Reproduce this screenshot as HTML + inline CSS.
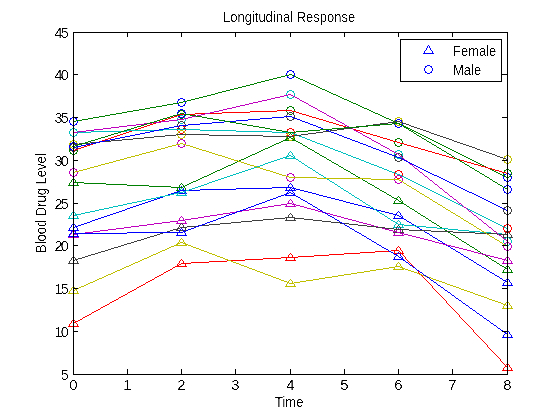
<!DOCTYPE html>
<html><head><meta charset="utf-8"><style>
html,body{margin:0;padding:0;background:#fff;width:560px;height:420px;overflow:hidden}
svg{display:block}
text{font-family:"Liberation Sans",sans-serif;font-size:13px;fill:#000}
</style></head><body>
<svg width="560" height="420" viewBox="0 0 560 420">
<defs><filter id="al" x="0" y="0" width="560" height="420" filterUnits="userSpaceOnUse"><feComponentTransfer><feFuncA type="linear" slope="4" intercept="-1.8"/></feComponentTransfer></filter></defs>
<rect width="560" height="420" fill="#fff"/>
<g fill="none" stroke-width="1" shape-rendering="crispEdges">
<path d="M73 223h1v1h-1zM72 224h1v1h-1zM74 224h1v1h-1zM71 225h1v1h-1zM75 225h1v1h-1zM71 226h1v1h-1zM75 226h1v1h-1zM70 227h1v1h-1zM76 227h1v1h-1zM69 228h1v1h-1zM77 228h1v1h-1zM69 229h1v1h-1zM77 229h1v1h-1zM68 230h11v1h-11z" fill="#0000ff"/><path d="M181 186h1v1h-1zM180 187h1v1h-1zM182 187h1v1h-1zM179 188h1v1h-1zM183 188h1v1h-1zM179 189h1v1h-1zM183 189h1v1h-1zM178 190h1v1h-1zM184 190h1v1h-1zM177 191h1v1h-1zM185 191h1v1h-1zM177 192h1v1h-1zM185 192h1v1h-1zM176 193h11v1h-11z" fill="#0000ff"/><path d="M290 183h1v1h-1zM289 184h1v1h-1zM291 184h1v1h-1zM288 185h1v1h-1zM292 185h1v1h-1zM288 186h1v1h-1zM292 186h1v1h-1zM287 187h1v1h-1zM293 187h1v1h-1zM286 188h1v1h-1zM294 188h1v1h-1zM286 189h1v1h-1zM294 189h1v1h-1zM285 190h11v1h-11z" fill="#0000ff"/><path d="M398 211h1v1h-1zM397 212h1v1h-1zM399 212h1v1h-1zM396 213h1v1h-1zM400 213h1v1h-1zM396 214h1v1h-1zM400 214h1v1h-1zM395 215h1v1h-1zM401 215h1v1h-1zM394 216h1v1h-1zM402 216h1v1h-1zM394 217h1v1h-1zM402 217h1v1h-1zM393 218h11v1h-11z" fill="#0000ff"/><path d="M507 278h1v1h-1zM506 279h1v1h-1zM508 279h1v1h-1zM505 280h1v1h-1zM509 280h1v1h-1zM505 281h1v1h-1zM509 281h1v1h-1zM504 282h1v1h-1zM510 282h1v1h-1zM503 283h1v1h-1zM511 283h1v1h-1zM503 284h1v1h-1zM511 284h1v1h-1zM502 285h11v1h-11z" fill="#0000ff"/><path d="M73 178h1v1h-1zM72 179h1v1h-1zM74 179h1v1h-1zM71 180h1v1h-1zM75 180h1v1h-1zM71 181h1v1h-1zM75 181h1v1h-1zM70 182h1v1h-1zM76 182h1v1h-1zM69 183h1v1h-1zM77 183h1v1h-1zM69 184h1v1h-1zM77 184h1v1h-1zM68 185h11v1h-11z" fill="#008000"/><path d="M181 183h1v1h-1zM180 184h1v1h-1zM182 184h1v1h-1zM179 185h1v1h-1zM183 185h1v1h-1zM179 186h1v1h-1zM183 186h1v1h-1zM178 187h1v1h-1zM184 187h1v1h-1zM177 188h1v1h-1zM185 188h1v1h-1zM177 189h1v1h-1zM185 189h1v1h-1zM176 190h11v1h-11z" fill="#008000"/><path d="M290 133h1v1h-1zM289 134h1v1h-1zM291 134h1v1h-1zM288 135h1v1h-1zM292 135h1v1h-1zM288 136h1v1h-1zM292 136h1v1h-1zM287 137h1v1h-1zM293 137h1v1h-1zM286 138h1v1h-1zM294 138h1v1h-1zM286 139h1v1h-1zM294 139h1v1h-1zM285 140h11v1h-11z" fill="#008000"/><path d="M398 196h1v1h-1zM397 197h1v1h-1zM399 197h1v1h-1zM396 198h1v1h-1zM400 198h1v1h-1zM396 199h1v1h-1zM400 199h1v1h-1zM395 200h1v1h-1zM401 200h1v1h-1zM394 201h1v1h-1zM402 201h1v1h-1zM394 202h1v1h-1zM402 202h1v1h-1zM393 203h11v1h-11z" fill="#008000"/><path d="M507 265h1v1h-1zM506 266h1v1h-1zM508 266h1v1h-1zM505 267h1v1h-1zM509 267h1v1h-1zM505 268h1v1h-1zM509 268h1v1h-1zM504 269h1v1h-1zM510 269h1v1h-1zM503 270h1v1h-1zM511 270h1v1h-1zM503 271h1v1h-1zM511 271h1v1h-1zM502 272h11v1h-11z" fill="#008000"/><path d="M73 319h1v1h-1zM72 320h1v1h-1zM74 320h1v1h-1zM71 321h1v1h-1zM75 321h1v1h-1zM71 322h1v1h-1zM75 322h1v1h-1zM70 323h1v1h-1zM76 323h1v1h-1zM69 324h1v1h-1zM77 324h1v1h-1zM69 325h1v1h-1zM77 325h1v1h-1zM68 326h11v1h-11z" fill="#ff0000"/><path d="M181 259h1v1h-1zM180 260h1v1h-1zM182 260h1v1h-1zM179 261h1v1h-1zM183 261h1v1h-1zM179 262h1v1h-1zM183 262h1v1h-1zM178 263h1v1h-1zM184 263h1v1h-1zM177 264h1v1h-1zM185 264h1v1h-1zM177 265h1v1h-1zM185 265h1v1h-1zM176 266h11v1h-11z" fill="#ff0000"/><path d="M290 253h1v1h-1zM289 254h1v1h-1zM291 254h1v1h-1zM288 255h1v1h-1zM292 255h1v1h-1zM288 256h1v1h-1zM292 256h1v1h-1zM287 257h1v1h-1zM293 257h1v1h-1zM286 258h1v1h-1zM294 258h1v1h-1zM286 259h1v1h-1zM294 259h1v1h-1zM285 260h11v1h-11z" fill="#ff0000"/><path d="M398 246h1v1h-1zM397 247h1v1h-1zM399 247h1v1h-1zM396 248h1v1h-1zM400 248h1v1h-1zM396 249h1v1h-1zM400 249h1v1h-1zM395 250h1v1h-1zM401 250h1v1h-1zM394 251h1v1h-1zM402 251h1v1h-1zM394 252h1v1h-1zM402 252h1v1h-1zM393 253h11v1h-11z" fill="#ff0000"/><path d="M507 363h1v1h-1zM506 364h1v1h-1zM508 364h1v1h-1zM505 365h1v1h-1zM509 365h1v1h-1zM505 366h1v1h-1zM509 366h1v1h-1zM504 367h1v1h-1zM510 367h1v1h-1zM503 368h1v1h-1zM511 368h1v1h-1zM503 369h1v1h-1zM511 369h1v1h-1zM502 370h11v1h-11z" fill="#ff0000"/><path d="M73 211h1v1h-1zM72 212h1v1h-1zM74 212h1v1h-1zM71 213h1v1h-1zM75 213h1v1h-1zM71 214h1v1h-1zM75 214h1v1h-1zM70 215h1v1h-1zM76 215h1v1h-1zM69 216h1v1h-1zM77 216h1v1h-1zM69 217h1v1h-1zM77 217h1v1h-1zM68 218h11v1h-11z" fill="#00bfbf"/><path d="M181 188h1v1h-1zM180 189h1v1h-1zM182 189h1v1h-1zM179 190h1v1h-1zM183 190h1v1h-1zM179 191h1v1h-1zM183 191h1v1h-1zM178 192h1v1h-1zM184 192h1v1h-1zM177 193h1v1h-1zM185 193h1v1h-1zM177 194h1v1h-1zM185 194h1v1h-1zM176 195h11v1h-11z" fill="#00bfbf"/><path d="M290 151h1v1h-1zM289 152h1v1h-1zM291 152h1v1h-1zM288 153h1v1h-1zM292 153h1v1h-1zM288 154h1v1h-1zM292 154h1v1h-1zM287 155h1v1h-1zM293 155h1v1h-1zM286 156h1v1h-1zM294 156h1v1h-1zM286 157h1v1h-1zM294 157h1v1h-1zM285 158h11v1h-11z" fill="#00bfbf"/><path d="M398 220h1v1h-1zM397 221h1v1h-1zM399 221h1v1h-1zM396 222h1v1h-1zM400 222h1v1h-1zM396 223h1v1h-1zM400 223h1v1h-1zM395 224h1v1h-1zM401 224h1v1h-1zM394 225h1v1h-1zM402 225h1v1h-1zM394 226h1v1h-1zM402 226h1v1h-1zM393 227h11v1h-11z" fill="#00bfbf"/><path d="M507 230h1v1h-1zM506 231h1v1h-1zM508 231h1v1h-1zM505 232h1v1h-1zM509 232h1v1h-1zM505 233h1v1h-1zM509 233h1v1h-1zM504 234h1v1h-1zM510 234h1v1h-1zM503 235h1v1h-1zM511 235h1v1h-1zM503 236h1v1h-1zM511 236h1v1h-1zM502 237h11v1h-11z" fill="#00bfbf"/><path d="M73 230h1v1h-1zM72 231h1v1h-1zM74 231h1v1h-1zM71 232h1v1h-1zM75 232h1v1h-1zM71 233h1v1h-1zM75 233h1v1h-1zM70 234h1v1h-1zM76 234h1v1h-1zM69 235h1v1h-1zM77 235h1v1h-1zM69 236h1v1h-1zM77 236h1v1h-1zM68 237h11v1h-11z" fill="#bf00bf"/><path d="M181 216h1v1h-1zM180 217h1v1h-1zM182 217h1v1h-1zM179 218h1v1h-1zM183 218h1v1h-1zM179 219h1v1h-1zM183 219h1v1h-1zM178 220h1v1h-1zM184 220h1v1h-1zM177 221h1v1h-1zM185 221h1v1h-1zM177 222h1v1h-1zM185 222h1v1h-1zM176 223h11v1h-11z" fill="#bf00bf"/><path d="M290 199h1v1h-1zM289 200h1v1h-1zM291 200h1v1h-1zM288 201h1v1h-1zM292 201h1v1h-1zM288 202h1v1h-1zM292 202h1v1h-1zM287 203h1v1h-1zM293 203h1v1h-1zM286 204h1v1h-1zM294 204h1v1h-1zM286 205h1v1h-1zM294 205h1v1h-1zM285 206h11v1h-11z" fill="#bf00bf"/><path d="M398 228h1v1h-1zM397 229h1v1h-1zM399 229h1v1h-1zM396 230h1v1h-1zM400 230h1v1h-1zM396 231h1v1h-1zM400 231h1v1h-1zM395 232h1v1h-1zM401 232h1v1h-1zM394 233h1v1h-1zM402 233h1v1h-1zM394 234h1v1h-1zM402 234h1v1h-1zM393 235h11v1h-11z" fill="#bf00bf"/><path d="M507 256h1v1h-1zM506 257h1v1h-1zM508 257h1v1h-1zM505 258h1v1h-1zM509 258h1v1h-1zM505 259h1v1h-1zM509 259h1v1h-1zM504 260h1v1h-1zM510 260h1v1h-1zM503 261h1v1h-1zM511 261h1v1h-1zM503 262h1v1h-1zM511 262h1v1h-1zM502 263h11v1h-11z" fill="#bf00bf"/><path d="M73 286h1v1h-1zM72 287h1v1h-1zM74 287h1v1h-1zM71 288h1v1h-1zM75 288h1v1h-1zM71 289h1v1h-1zM75 289h1v1h-1zM70 290h1v1h-1zM76 290h1v1h-1zM69 291h1v1h-1zM77 291h1v1h-1zM69 292h1v1h-1zM77 292h1v1h-1zM68 293h11v1h-11z" fill="#bfbf00"/><path d="M181 238h1v1h-1zM180 239h1v1h-1zM182 239h1v1h-1zM179 240h1v1h-1zM183 240h1v1h-1zM179 241h1v1h-1zM183 241h1v1h-1zM178 242h1v1h-1zM184 242h1v1h-1zM177 243h1v1h-1zM185 243h1v1h-1zM177 244h1v1h-1zM185 244h1v1h-1zM176 245h11v1h-11z" fill="#bfbf00"/><path d="M290 279h1v1h-1zM289 280h1v1h-1zM291 280h1v1h-1zM288 281h1v1h-1zM292 281h1v1h-1zM288 282h1v1h-1zM292 282h1v1h-1zM287 283h1v1h-1zM293 283h1v1h-1zM286 284h1v1h-1zM294 284h1v1h-1zM286 285h1v1h-1zM294 285h1v1h-1zM285 286h11v1h-11z" fill="#bfbf00"/><path d="M398 262h1v1h-1zM397 263h1v1h-1zM399 263h1v1h-1zM396 264h1v1h-1zM400 264h1v1h-1zM396 265h1v1h-1zM400 265h1v1h-1zM395 266h1v1h-1zM401 266h1v1h-1zM394 267h1v1h-1zM402 267h1v1h-1zM394 268h1v1h-1zM402 268h1v1h-1zM393 269h11v1h-11z" fill="#bfbf00"/><path d="M507 301h1v1h-1zM506 302h1v1h-1zM508 302h1v1h-1zM505 303h1v1h-1zM509 303h1v1h-1zM505 304h1v1h-1zM509 304h1v1h-1zM504 305h1v1h-1zM510 305h1v1h-1zM503 306h1v1h-1zM511 306h1v1h-1zM503 307h1v1h-1zM511 307h1v1h-1zM502 308h11v1h-11z" fill="#bfbf00"/><path d="M73 256h1v1h-1zM72 257h1v1h-1zM74 257h1v1h-1zM71 258h1v1h-1zM75 258h1v1h-1zM71 259h1v1h-1zM75 259h1v1h-1zM70 260h1v1h-1zM76 260h1v1h-1zM69 261h1v1h-1zM77 261h1v1h-1zM69 262h1v1h-1zM77 262h1v1h-1zM68 263h11v1h-11z" fill="#404040"/><path d="M181 223h1v1h-1zM180 224h1v1h-1zM182 224h1v1h-1zM179 225h1v1h-1zM183 225h1v1h-1zM179 226h1v1h-1zM183 226h1v1h-1zM178 227h1v1h-1zM184 227h1v1h-1zM177 228h1v1h-1zM185 228h1v1h-1zM177 229h1v1h-1zM185 229h1v1h-1zM176 230h11v1h-11z" fill="#404040"/><path d="M290 213h1v1h-1zM289 214h1v1h-1zM291 214h1v1h-1zM288 215h1v1h-1zM292 215h1v1h-1zM288 216h1v1h-1zM292 216h1v1h-1zM287 217h1v1h-1zM293 217h1v1h-1zM286 218h1v1h-1zM294 218h1v1h-1zM286 219h1v1h-1zM294 219h1v1h-1zM285 220h11v1h-11z" fill="#404040"/><path d="M398 225h1v1h-1zM397 226h1v1h-1zM399 226h1v1h-1zM396 227h1v1h-1zM400 227h1v1h-1zM396 228h1v1h-1zM400 228h1v1h-1zM395 229h1v1h-1zM401 229h1v1h-1zM394 230h1v1h-1zM402 230h1v1h-1zM394 231h1v1h-1zM402 231h1v1h-1zM393 232h11v1h-11z" fill="#404040"/><path d="M507 230h1v1h-1zM506 231h1v1h-1zM508 231h1v1h-1zM505 232h1v1h-1zM509 232h1v1h-1zM505 233h1v1h-1zM509 233h1v1h-1zM504 234h1v1h-1zM510 234h1v1h-1zM503 235h1v1h-1zM511 235h1v1h-1zM503 236h1v1h-1zM511 236h1v1h-1zM502 237h11v1h-11z" fill="#404040"/><path d="M73 229h1v1h-1zM72 230h1v1h-1zM74 230h1v1h-1zM71 231h1v1h-1zM75 231h1v1h-1zM71 232h1v1h-1zM75 232h1v1h-1zM70 233h1v1h-1zM76 233h1v1h-1zM69 234h1v1h-1zM77 234h1v1h-1zM69 235h1v1h-1zM77 235h1v1h-1zM68 236h11v1h-11z" fill="#0000ff"/><path d="M181 228h1v1h-1zM180 229h1v1h-1zM182 229h1v1h-1zM179 230h1v1h-1zM183 230h1v1h-1zM179 231h1v1h-1zM183 231h1v1h-1zM178 232h1v1h-1zM184 232h1v1h-1zM177 233h1v1h-1zM185 233h1v1h-1zM177 234h1v1h-1zM185 234h1v1h-1zM176 235h11v1h-11z" fill="#0000ff"/><path d="M290 188h1v1h-1zM289 189h1v1h-1zM291 189h1v1h-1zM288 190h1v1h-1zM292 190h1v1h-1zM288 191h1v1h-1zM292 191h1v1h-1zM287 192h1v1h-1zM293 192h1v1h-1zM286 193h1v1h-1zM294 193h1v1h-1zM286 194h1v1h-1zM294 194h1v1h-1zM285 195h11v1h-11z" fill="#0000ff"/><path d="M398 252h1v1h-1zM397 253h1v1h-1zM399 253h1v1h-1zM396 254h1v1h-1zM400 254h1v1h-1zM396 255h1v1h-1zM400 255h1v1h-1zM395 256h1v1h-1zM401 256h1v1h-1zM394 257h1v1h-1zM402 257h1v1h-1zM394 258h1v1h-1zM402 258h1v1h-1zM393 259h11v1h-11z" fill="#0000ff"/><path d="M507 330h1v1h-1zM506 331h1v1h-1zM508 331h1v1h-1zM505 332h1v1h-1zM509 332h1v1h-1zM505 333h1v1h-1zM509 333h1v1h-1zM504 334h1v1h-1zM510 334h1v1h-1zM503 335h1v1h-1zM511 335h1v1h-1zM503 336h1v1h-1zM511 336h1v1h-1zM502 337h11v1h-11z" fill="#0000ff"/>
<path d="M72 117h3v1h-3zM72 125h3v1h-3zM69 120h1v3h-1zM77 120h1v3h-1zM71 118h1v1h-1zM75 118h1v1h-1zM70 119h1v1h-1zM76 119h1v1h-1zM70 123h1v1h-1zM76 123h1v1h-1zM71 124h1v1h-1zM75 124h1v1h-1zM70 118h1v1h-1zM76 118h1v1h-1zM70 124h1v1h-1zM76 124h1v1h-1z" fill="#0000ff"/><path d="M180 98h3v1h-3zM180 106h3v1h-3zM177 101h1v3h-1zM185 101h1v3h-1zM179 99h1v1h-1zM183 99h1v1h-1zM178 100h1v1h-1zM184 100h1v1h-1zM178 104h1v1h-1zM184 104h1v1h-1zM179 105h1v1h-1zM183 105h1v1h-1zM178 99h1v1h-1zM184 99h1v1h-1zM178 105h1v1h-1zM184 105h1v1h-1z" fill="#0000ff"/><path d="M289 70h3v1h-3zM289 78h3v1h-3zM286 73h1v3h-1zM294 73h1v3h-1zM288 71h1v1h-1zM292 71h1v1h-1zM287 72h1v1h-1zM293 72h1v1h-1zM287 76h1v1h-1zM293 76h1v1h-1zM288 77h1v1h-1zM292 77h1v1h-1zM287 71h1v1h-1zM293 71h1v1h-1zM287 77h1v1h-1zM293 77h1v1h-1z" fill="#0000ff"/><path d="M397 119h3v1h-3zM397 127h3v1h-3zM394 122h1v3h-1zM402 122h1v3h-1zM396 120h1v1h-1zM400 120h1v1h-1zM395 121h1v1h-1zM401 121h1v1h-1zM395 125h1v1h-1zM401 125h1v1h-1zM396 126h1v1h-1zM400 126h1v1h-1zM395 120h1v1h-1zM401 120h1v1h-1zM395 126h1v1h-1zM401 126h1v1h-1z" fill="#0000ff"/><path d="M506 173h3v1h-3zM506 181h3v1h-3zM503 176h1v3h-1zM511 176h1v3h-1zM505 174h1v1h-1zM509 174h1v1h-1zM504 175h1v1h-1zM510 175h1v1h-1zM504 179h1v1h-1zM510 179h1v1h-1zM505 180h1v1h-1zM509 180h1v1h-1zM504 174h1v1h-1zM510 174h1v1h-1zM504 180h1v1h-1zM510 180h1v1h-1z" fill="#0000ff"/><path d="M72 146h3v1h-3zM72 154h3v1h-3zM69 149h1v3h-1zM77 149h1v3h-1zM71 147h1v1h-1zM75 147h1v1h-1zM70 148h1v1h-1zM76 148h1v1h-1zM70 152h1v1h-1zM76 152h1v1h-1zM71 153h1v1h-1zM75 153h1v1h-1zM70 147h1v1h-1zM76 147h1v1h-1zM70 153h1v1h-1zM76 153h1v1h-1z" fill="#008000"/><path d="M180 110h3v1h-3zM180 118h3v1h-3zM177 113h1v3h-1zM185 113h1v3h-1zM179 111h1v1h-1zM183 111h1v1h-1zM178 112h1v1h-1zM184 112h1v1h-1zM178 116h1v1h-1zM184 116h1v1h-1zM179 117h1v1h-1zM183 117h1v1h-1zM178 111h1v1h-1zM184 111h1v1h-1zM178 117h1v1h-1zM184 117h1v1h-1z" fill="#008000"/><path d="M289 106h3v1h-3zM289 114h3v1h-3zM286 109h1v3h-1zM294 109h1v3h-1zM288 107h1v1h-1zM292 107h1v1h-1zM287 108h1v1h-1zM293 108h1v1h-1zM287 112h1v1h-1zM293 112h1v1h-1zM288 113h1v1h-1zM292 113h1v1h-1zM287 107h1v1h-1zM293 107h1v1h-1zM287 113h1v1h-1zM293 113h1v1h-1z" fill="#008000"/><path d="M397 138h3v1h-3zM397 146h3v1h-3zM394 141h1v3h-1zM402 141h1v3h-1zM396 139h1v1h-1zM400 139h1v1h-1zM395 140h1v1h-1zM401 140h1v1h-1zM395 144h1v1h-1zM401 144h1v1h-1zM396 145h1v1h-1zM400 145h1v1h-1zM395 139h1v1h-1zM401 139h1v1h-1zM395 145h1v1h-1zM401 145h1v1h-1z" fill="#008000"/><path d="M506 169h3v1h-3zM506 177h3v1h-3zM503 172h1v3h-1zM511 172h1v3h-1zM505 170h1v1h-1zM509 170h1v1h-1zM504 171h1v1h-1zM510 171h1v1h-1zM504 175h1v1h-1zM510 175h1v1h-1zM505 176h1v1h-1zM509 176h1v1h-1zM504 170h1v1h-1zM510 170h1v1h-1zM504 176h1v1h-1zM510 176h1v1h-1z" fill="#008000"/><path d="M72 128h3v1h-3zM72 136h3v1h-3zM69 131h1v3h-1zM77 131h1v3h-1zM71 129h1v1h-1zM75 129h1v1h-1zM70 130h1v1h-1zM76 130h1v1h-1zM70 134h1v1h-1zM76 134h1v1h-1zM71 135h1v1h-1zM75 135h1v1h-1zM70 129h1v1h-1zM76 129h1v1h-1zM70 135h1v1h-1zM76 135h1v1h-1z" fill="#ff0000"/><path d="M180 125h3v1h-3zM180 133h3v1h-3zM177 128h1v3h-1zM185 128h1v3h-1zM179 126h1v1h-1zM183 126h1v1h-1zM178 127h1v1h-1zM184 127h1v1h-1zM178 131h1v1h-1zM184 131h1v1h-1zM179 132h1v1h-1zM183 132h1v1h-1zM178 126h1v1h-1zM184 126h1v1h-1zM178 132h1v1h-1zM184 132h1v1h-1z" fill="#ff0000"/><path d="M289 128h3v1h-3zM289 136h3v1h-3zM286 131h1v3h-1zM294 131h1v3h-1zM288 129h1v1h-1zM292 129h1v1h-1zM287 130h1v1h-1zM293 130h1v1h-1zM287 134h1v1h-1zM293 134h1v1h-1zM288 135h1v1h-1zM292 135h1v1h-1zM287 129h1v1h-1zM293 129h1v1h-1zM287 135h1v1h-1zM293 135h1v1h-1z" fill="#ff0000"/><path d="M397 170h3v1h-3zM397 178h3v1h-3zM394 173h1v3h-1zM402 173h1v3h-1zM396 171h1v1h-1zM400 171h1v1h-1zM395 172h1v1h-1zM401 172h1v1h-1zM395 176h1v1h-1zM401 176h1v1h-1zM396 177h1v1h-1zM400 177h1v1h-1zM395 171h1v1h-1zM401 171h1v1h-1zM395 177h1v1h-1zM401 177h1v1h-1z" fill="#ff0000"/><path d="M506 224h3v1h-3zM506 232h3v1h-3zM503 227h1v3h-1zM511 227h1v3h-1zM505 225h1v1h-1zM509 225h1v1h-1zM504 226h1v1h-1zM510 226h1v1h-1zM504 230h1v1h-1zM510 230h1v1h-1zM505 231h1v1h-1zM509 231h1v1h-1zM504 225h1v1h-1zM510 225h1v1h-1zM504 231h1v1h-1zM510 231h1v1h-1z" fill="#ff0000"/><path d="M72 128h3v1h-3zM72 136h3v1h-3zM69 131h1v3h-1zM77 131h1v3h-1zM71 129h1v1h-1zM75 129h1v1h-1zM70 130h1v1h-1zM76 130h1v1h-1zM70 134h1v1h-1zM76 134h1v1h-1zM71 135h1v1h-1zM75 135h1v1h-1zM70 129h1v1h-1zM76 129h1v1h-1zM70 135h1v1h-1zM76 135h1v1h-1z" fill="#00bfbf"/><path d="M180 115h3v1h-3zM180 123h3v1h-3zM177 118h1v3h-1zM185 118h1v3h-1zM179 116h1v1h-1zM183 116h1v1h-1zM178 117h1v1h-1zM184 117h1v1h-1zM178 121h1v1h-1zM184 121h1v1h-1zM179 122h1v1h-1zM183 122h1v1h-1zM178 116h1v1h-1zM184 116h1v1h-1zM178 122h1v1h-1zM184 122h1v1h-1z" fill="#00bfbf"/><path d="M289 90h3v1h-3zM289 98h3v1h-3zM286 93h1v3h-1zM294 93h1v3h-1zM288 91h1v1h-1zM292 91h1v1h-1zM287 92h1v1h-1zM293 92h1v1h-1zM287 96h1v1h-1zM293 96h1v1h-1zM288 97h1v1h-1zM292 97h1v1h-1zM287 91h1v1h-1zM293 91h1v1h-1zM287 97h1v1h-1zM293 97h1v1h-1z" fill="#00bfbf"/><path d="M397 150h3v1h-3zM397 158h3v1h-3zM394 153h1v3h-1zM402 153h1v3h-1zM396 151h1v1h-1zM400 151h1v1h-1zM395 152h1v1h-1zM401 152h1v1h-1zM395 156h1v1h-1zM401 156h1v1h-1zM396 157h1v1h-1zM400 157h1v1h-1zM395 151h1v1h-1zM401 151h1v1h-1zM395 157h1v1h-1zM401 157h1v1h-1z" fill="#00bfbf"/><path d="M506 237h3v1h-3zM506 245h3v1h-3zM503 240h1v3h-1zM511 240h1v3h-1zM505 238h1v1h-1zM509 238h1v1h-1zM504 239h1v1h-1zM510 239h1v1h-1zM504 243h1v1h-1zM510 243h1v1h-1zM505 244h1v1h-1zM509 244h1v1h-1zM504 238h1v1h-1zM510 238h1v1h-1zM504 244h1v1h-1zM510 244h1v1h-1z" fill="#00bfbf"/><path d="M72 168h3v1h-3zM72 176h3v1h-3zM69 171h1v3h-1zM77 171h1v3h-1zM71 169h1v1h-1zM75 169h1v1h-1zM70 170h1v1h-1zM76 170h1v1h-1zM70 174h1v1h-1zM76 174h1v1h-1zM71 175h1v1h-1zM75 175h1v1h-1zM70 169h1v1h-1zM76 169h1v1h-1zM70 175h1v1h-1zM76 175h1v1h-1z" fill="#bf00bf"/><path d="M180 139h3v1h-3zM180 147h3v1h-3zM177 142h1v3h-1zM185 142h1v3h-1zM179 140h1v1h-1zM183 140h1v1h-1zM178 141h1v1h-1zM184 141h1v1h-1zM178 145h1v1h-1zM184 145h1v1h-1zM179 146h1v1h-1zM183 146h1v1h-1zM178 140h1v1h-1zM184 140h1v1h-1zM178 146h1v1h-1zM184 146h1v1h-1z" fill="#bf00bf"/><path d="M289 173h3v1h-3zM289 181h3v1h-3zM286 176h1v3h-1zM294 176h1v3h-1zM288 174h1v1h-1zM292 174h1v1h-1zM287 175h1v1h-1zM293 175h1v1h-1zM287 179h1v1h-1zM293 179h1v1h-1zM288 180h1v1h-1zM292 180h1v1h-1zM287 174h1v1h-1zM293 174h1v1h-1zM287 180h1v1h-1zM293 180h1v1h-1z" fill="#bf00bf"/><path d="M397 175h3v1h-3zM397 183h3v1h-3zM394 178h1v3h-1zM402 178h1v3h-1zM396 176h1v1h-1zM400 176h1v1h-1zM395 177h1v1h-1zM401 177h1v1h-1zM395 181h1v1h-1zM401 181h1v1h-1zM396 182h1v1h-1zM400 182h1v1h-1zM395 176h1v1h-1zM401 176h1v1h-1zM395 182h1v1h-1zM401 182h1v1h-1z" fill="#bf00bf"/><path d="M506 242h3v1h-3zM506 250h3v1h-3zM503 245h1v3h-1zM511 245h1v3h-1zM505 243h1v1h-1zM509 243h1v1h-1zM504 244h1v1h-1zM510 244h1v1h-1zM504 248h1v1h-1zM510 248h1v1h-1zM505 249h1v1h-1zM509 249h1v1h-1zM504 243h1v1h-1zM510 243h1v1h-1zM504 249h1v1h-1zM510 249h1v1h-1z" fill="#bf00bf"/><path d="M72 140h3v1h-3zM72 148h3v1h-3zM69 143h1v3h-1zM77 143h1v3h-1zM71 141h1v1h-1zM75 141h1v1h-1zM70 142h1v1h-1zM76 142h1v1h-1zM70 146h1v1h-1zM76 146h1v1h-1zM71 147h1v1h-1zM75 147h1v1h-1zM70 141h1v1h-1zM76 141h1v1h-1zM70 147h1v1h-1zM76 147h1v1h-1z" fill="#bfbf00"/><path d="M180 130h3v1h-3zM180 138h3v1h-3zM177 133h1v3h-1zM185 133h1v3h-1zM179 131h1v1h-1zM183 131h1v1h-1zM178 132h1v1h-1zM184 132h1v1h-1zM178 136h1v1h-1zM184 136h1v1h-1zM179 137h1v1h-1zM183 137h1v1h-1zM178 131h1v1h-1zM184 131h1v1h-1zM178 137h1v1h-1zM184 137h1v1h-1z" fill="#bfbf00"/><path d="M289 132h3v1h-3zM289 140h3v1h-3zM286 135h1v3h-1zM294 135h1v3h-1zM288 133h1v1h-1zM292 133h1v1h-1zM287 134h1v1h-1zM293 134h1v1h-1zM287 138h1v1h-1zM293 138h1v1h-1zM288 139h1v1h-1zM292 139h1v1h-1zM287 133h1v1h-1zM293 133h1v1h-1zM287 139h1v1h-1zM293 139h1v1h-1z" fill="#bfbf00"/><path d="M397 117h3v1h-3zM397 125h3v1h-3zM394 120h1v3h-1zM402 120h1v3h-1zM396 118h1v1h-1zM400 118h1v1h-1zM395 119h1v1h-1zM401 119h1v1h-1zM395 123h1v1h-1zM401 123h1v1h-1zM396 124h1v1h-1zM400 124h1v1h-1zM395 118h1v1h-1zM401 118h1v1h-1zM395 124h1v1h-1zM401 124h1v1h-1z" fill="#bfbf00"/><path d="M506 155h3v1h-3zM506 163h3v1h-3zM503 158h1v3h-1zM511 158h1v3h-1zM505 156h1v1h-1zM509 156h1v1h-1zM504 157h1v1h-1zM510 157h1v1h-1zM504 161h1v1h-1zM510 161h1v1h-1zM505 162h1v1h-1zM509 162h1v1h-1zM504 156h1v1h-1zM510 156h1v1h-1zM504 162h1v1h-1zM510 162h1v1h-1z" fill="#bfbf00"/><path d="M72 143h3v1h-3zM72 151h3v1h-3zM69 146h1v3h-1zM77 146h1v3h-1zM71 144h1v1h-1zM75 144h1v1h-1zM70 145h1v1h-1zM76 145h1v1h-1zM70 149h1v1h-1zM76 149h1v1h-1zM71 150h1v1h-1zM75 150h1v1h-1zM70 144h1v1h-1zM76 144h1v1h-1zM70 150h1v1h-1zM76 150h1v1h-1z" fill="#404040"/><path d="M180 121h3v1h-3zM180 129h3v1h-3zM177 124h1v3h-1zM185 124h1v3h-1zM179 122h1v1h-1zM183 122h1v1h-1zM178 123h1v1h-1zM184 123h1v1h-1zM178 127h1v1h-1zM184 127h1v1h-1zM179 128h1v1h-1zM183 128h1v1h-1zM178 122h1v1h-1zM184 122h1v1h-1zM178 128h1v1h-1zM184 128h1v1h-1z" fill="#404040"/><path d="M289 112h3v1h-3zM289 120h3v1h-3zM286 115h1v3h-1zM294 115h1v3h-1zM288 113h1v1h-1zM292 113h1v1h-1zM287 114h1v1h-1zM293 114h1v1h-1zM287 118h1v1h-1zM293 118h1v1h-1zM288 119h1v1h-1zM292 119h1v1h-1zM287 113h1v1h-1zM293 113h1v1h-1zM287 119h1v1h-1zM293 119h1v1h-1z" fill="#404040"/><path d="M397 153h3v1h-3zM397 161h3v1h-3zM394 156h1v3h-1zM402 156h1v3h-1zM396 154h1v1h-1zM400 154h1v1h-1zM395 155h1v1h-1zM401 155h1v1h-1zM395 159h1v1h-1zM401 159h1v1h-1zM396 160h1v1h-1zM400 160h1v1h-1zM395 154h1v1h-1zM401 154h1v1h-1zM395 160h1v1h-1zM401 160h1v1h-1z" fill="#404040"/><path d="M506 206h3v1h-3zM506 214h3v1h-3zM503 209h1v3h-1zM511 209h1v3h-1zM505 207h1v1h-1zM509 207h1v1h-1zM504 208h1v1h-1zM510 208h1v1h-1zM504 212h1v1h-1zM510 212h1v1h-1zM505 213h1v1h-1zM509 213h1v1h-1zM504 207h1v1h-1zM510 207h1v1h-1zM504 213h1v1h-1zM510 213h1v1h-1z" fill="#404040"/><path d="M72 142h3v1h-3zM72 150h3v1h-3zM69 145h1v3h-1zM77 145h1v3h-1zM71 143h1v1h-1zM75 143h1v1h-1zM70 144h1v1h-1zM76 144h1v1h-1zM70 148h1v1h-1zM76 148h1v1h-1zM71 149h1v1h-1zM75 149h1v1h-1zM70 143h1v1h-1zM76 143h1v1h-1zM70 149h1v1h-1zM76 149h1v1h-1z" fill="#0000ff"/><path d="M180 109h3v1h-3zM180 117h3v1h-3zM177 112h1v3h-1zM185 112h1v3h-1zM179 110h1v1h-1zM183 110h1v1h-1zM178 111h1v1h-1zM184 111h1v1h-1zM178 115h1v1h-1zM184 115h1v1h-1zM179 116h1v1h-1zM183 116h1v1h-1zM178 110h1v1h-1zM184 110h1v1h-1zM178 116h1v1h-1zM184 116h1v1h-1z" fill="#0000ff"/><path d="M397 119h3v1h-3zM397 127h3v1h-3zM394 122h1v3h-1zM402 122h1v3h-1zM396 120h1v1h-1zM400 120h1v1h-1zM395 121h1v1h-1zM401 121h1v1h-1zM395 125h1v1h-1zM401 125h1v1h-1zM396 126h1v1h-1zM400 126h1v1h-1zM395 120h1v1h-1zM401 120h1v1h-1zM395 126h1v1h-1zM401 126h1v1h-1z" fill="#0000ff"/><path d="M506 185h3v1h-3zM506 193h3v1h-3zM503 188h1v3h-1zM511 188h1v3h-1zM505 186h1v1h-1zM509 186h1v1h-1zM504 187h1v1h-1zM510 187h1v1h-1zM504 191h1v1h-1zM510 191h1v1h-1zM505 192h1v1h-1zM509 192h1v1h-1zM504 186h1v1h-1zM510 186h1v1h-1zM504 192h1v1h-1zM510 192h1v1h-1z" fill="#0000ff"/>
<path d="M272 187h20v1h-20zM236 188h36v1h-36zM292 188h4v1h-4zM200 189h36v1h-36zM296 189h4v1h-4zM180 190h20v1h-20zM300 190h4v1h-4zM177 191h3v1h-3zM304 191h4v1h-4zM174 192h3v1h-3zM308 192h4v1h-4zM171 193h3v1h-3zM312 193h4v1h-4zM168 194h3v1h-3zM316 194h3v1h-3zM165 195h3v1h-3zM319 195h4v1h-4zM163 196h2v1h-2zM323 196h4v1h-4zM160 197h3v1h-3zM327 197h4v1h-4zM157 198h3v1h-3zM331 198h4v1h-4zM154 199h3v1h-3zM335 199h4v1h-4zM151 200h3v1h-3zM339 200h4v1h-4zM148 201h3v1h-3zM343 201h3v1h-3zM145 202h3v1h-3zM346 202h4v1h-4zM142 203h3v1h-3zM350 203h4v1h-4zM139 204h3v1h-3zM354 204h4v1h-4zM136 205h3v1h-3zM358 205h4v1h-4zM133 206h3v1h-3zM362 206h4v1h-4zM130 207h3v1h-3zM366 207h4v1h-4zM127 208h3v1h-3zM370 208h3v1h-3zM125 209h2v1h-2zM373 209h4v1h-4zM122 210h3v1h-3zM377 210h4v1h-4zM119 211h3v1h-3zM381 211h4v1h-4zM116 212h3v1h-3zM385 212h4v1h-4zM113 213h3v1h-3zM389 213h4v1h-4zM110 214h3v1h-3zM393 214h4v1h-4zM107 215h3v1h-3zM397 215h2v1h-2zM104 216h3v1h-3zM399 216h2v1h-2zM101 217h3v1h-3zM401 217h2v1h-2zM98 218h3v1h-3zM403 218h1v1h-1zM95 219h3v1h-3zM404 219h2v1h-2zM92 220h3v1h-3zM406 220h1v1h-1zM90 221h2v1h-2zM407 221h2v1h-2zM87 222h3v1h-3zM409 222h2v1h-2zM84 223h3v1h-3zM411 223h1v1h-1zM81 224h3v1h-3zM412 224h2v1h-2zM78 225h3v1h-3zM414 225h2v1h-2zM75 226h3v1h-3zM416 226h1v1h-1zM73 227h2v1h-2zM417 227h2v1h-2zM419 228h1v1h-1zM420 229h2v1h-2zM422 230h2v1h-2zM424 231h1v1h-1zM425 232h2v1h-2zM427 233h2v1h-2zM429 234h1v1h-1zM430 235h2v1h-2zM432 236h1v1h-1zM433 237h2v1h-2zM435 238h2v1h-2zM437 239h1v1h-1zM438 240h2v1h-2zM440 241h2v1h-2zM442 242h1v1h-1zM443 243h2v1h-2zM445 244h1v1h-1zM446 245h2v1h-2zM448 246h2v1h-2zM450 247h1v1h-1zM451 248h2v1h-2zM453 249h2v1h-2zM455 250h1v1h-1zM456 251h2v1h-2zM458 252h2v1h-2zM460 253h1v1h-1zM461 254h2v1h-2zM463 255h1v1h-1zM464 256h2v1h-2zM466 257h2v1h-2zM468 258h1v1h-1zM469 259h2v1h-2zM471 260h2v1h-2zM473 261h1v1h-1zM474 262h2v1h-2zM476 263h1v1h-1zM477 264h2v1h-2zM479 265h2v1h-2zM481 266h1v1h-1zM482 267h2v1h-2zM484 268h2v1h-2zM486 269h1v1h-1zM487 270h2v1h-2zM489 271h1v1h-1zM490 272h2v1h-2zM492 273h2v1h-2zM494 274h1v1h-1zM495 275h2v1h-2zM497 276h2v1h-2zM499 277h1v1h-1zM500 278h2v1h-2zM502 279h1v1h-1zM503 280h2v1h-2zM505 281h2v1h-2zM507 282h1v1h-1z" fill="#0000ff"/><path d="M289 137h2v1h-2zM287 138h2v1h-2zM291 138h2v1h-2zM285 139h2v1h-2zM293 139h2v1h-2zM283 140h2v1h-2zM295 140h1v1h-1zM281 141h2v1h-2zM296 141h2v1h-2zM279 142h2v1h-2zM298 142h2v1h-2zM276 143h3v1h-3zM300 143h2v1h-2zM274 144h2v1h-2zM302 144h1v1h-1zM272 145h2v1h-2zM303 145h2v1h-2zM270 146h2v1h-2zM305 146h2v1h-2zM268 147h2v1h-2zM307 147h1v1h-1zM265 148h3v1h-3zM308 148h2v1h-2zM263 149h2v1h-2zM310 149h2v1h-2zM261 150h2v1h-2zM312 150h2v1h-2zM259 151h2v1h-2zM314 151h1v1h-1zM257 152h2v1h-2zM315 152h2v1h-2zM255 153h2v1h-2zM317 153h2v1h-2zM252 154h3v1h-3zM319 154h1v1h-1zM250 155h2v1h-2zM320 155h2v1h-2zM248 156h2v1h-2zM322 156h2v1h-2zM246 157h2v1h-2zM324 157h2v1h-2zM244 158h2v1h-2zM326 158h1v1h-1zM241 159h3v1h-3zM327 159h2v1h-2zM239 160h2v1h-2zM329 160h2v1h-2zM237 161h2v1h-2zM331 161h1v1h-1zM235 162h2v1h-2zM332 162h2v1h-2zM233 163h2v1h-2zM334 163h2v1h-2zM231 164h2v1h-2zM336 164h2v1h-2zM228 165h3v1h-3zM338 165h1v1h-1zM226 166h2v1h-2zM339 166h2v1h-2zM224 167h2v1h-2zM341 167h2v1h-2zM222 168h2v1h-2zM343 168h1v1h-1zM220 169h2v1h-2zM344 169h2v1h-2zM217 170h3v1h-3zM346 170h2v1h-2zM215 171h2v1h-2zM348 171h2v1h-2zM213 172h2v1h-2zM350 172h1v1h-1zM211 173h2v1h-2zM351 173h2v1h-2zM209 174h2v1h-2zM353 174h2v1h-2zM207 175h2v1h-2zM355 175h1v1h-1zM204 176h3v1h-3zM356 176h2v1h-2zM202 177h2v1h-2zM358 177h2v1h-2zM200 178h2v1h-2zM360 178h2v1h-2zM198 179h2v1h-2zM362 179h1v1h-1zM196 180h2v1h-2zM363 180h2v1h-2zM193 181h3v1h-3zM365 181h2v1h-2zM73 182h11v1h-11zM191 182h2v1h-2zM367 182h1v1h-1zM84 183h22v1h-22zM189 183h2v1h-2zM368 183h2v1h-2zM106 184h21v1h-21zM187 184h2v1h-2zM370 184h2v1h-2zM127 185h22v1h-22zM185 185h2v1h-2zM372 185h2v1h-2zM149 186h22v1h-22zM183 186h2v1h-2zM374 186h1v1h-1zM171 187h12v1h-12zM375 187h2v1h-2zM377 188h2v1h-2zM379 189h1v1h-1zM380 190h2v1h-2zM382 191h2v1h-2zM384 192h2v1h-2zM386 193h1v1h-1zM387 194h2v1h-2zM389 195h2v1h-2zM391 196h1v1h-1zM392 197h2v1h-2zM394 198h2v1h-2zM396 199h2v1h-2zM398 200h1v1h-1zM399 201h2v1h-2zM401 202h1v1h-1zM402 203h2v1h-2zM404 204h2v1h-2zM406 205h1v1h-1zM407 206h2v1h-2zM409 207h1v1h-1zM410 208h2v1h-2zM412 209h2v1h-2zM414 210h1v1h-1zM415 211h2v1h-2zM417 212h1v1h-1zM418 213h2v1h-2zM420 214h1v1h-1zM421 215h2v1h-2zM423 216h2v1h-2zM425 217h1v1h-1zM426 218h2v1h-2zM428 219h1v1h-1zM429 220h2v1h-2zM431 221h1v1h-1zM432 222h2v1h-2zM434 223h2v1h-2zM436 224h1v1h-1zM437 225h2v1h-2zM439 226h1v1h-1zM440 227h2v1h-2zM442 228h2v1h-2zM444 229h1v1h-1zM445 230h2v1h-2zM447 231h1v1h-1zM448 232h2v1h-2zM450 233h1v1h-1zM451 234h2v1h-2zM453 235h2v1h-2zM455 236h1v1h-1zM456 237h2v1h-2zM458 238h1v1h-1zM459 239h2v1h-2zM461 240h1v1h-1zM462 241h2v1h-2zM464 242h2v1h-2zM466 243h1v1h-1zM467 244h2v1h-2zM469 245h1v1h-1zM470 246h2v1h-2zM472 247h2v1h-2zM474 248h1v1h-1zM475 249h2v1h-2zM477 250h1v1h-1zM478 251h2v1h-2zM480 252h1v1h-1zM481 253h2v1h-2zM483 254h2v1h-2zM485 255h1v1h-1zM486 256h2v1h-2zM488 257h1v1h-1zM489 258h2v1h-2zM491 259h1v1h-1zM492 260h2v1h-2zM494 261h2v1h-2zM496 262h1v1h-1zM497 263h2v1h-2zM499 264h1v1h-1zM500 265h2v1h-2zM502 266h2v1h-2zM504 267h1v1h-1zM505 268h2v1h-2zM507 269h1v1h-1z" fill="#008000"/><path d="M391 250h8v1h-8zM375 251h16v1h-16zM399 251h1v1h-1zM360 252h15v1h-15zM400 252h1v1h-1zM344 253h16v1h-16zM401 253h1v1h-1zM329 254h15v1h-15zM402 254h1v1h-1zM314 255h15v1h-15zM403 255h1v1h-1zM298 256h16v1h-16zM404 256h1v1h-1zM281 257h17v1h-17zM405 257h1v1h-1zM263 258h18v1h-18zM405 258h1v1h-1zM245 259h18v1h-18zM406 259h1v1h-1zM227 260h18v1h-18zM407 260h1v1h-1zM209 261h18v1h-18zM408 261h1v1h-1zM191 262h18v1h-18zM409 262h1v1h-1zM181 263h10v1h-10zM410 263h1v1h-1zM179 264h2v1h-2zM411 264h1v1h-1zM177 265h2v1h-2zM412 265h1v1h-1zM175 266h2v1h-2zM413 266h1v1h-1zM173 267h2v1h-2zM414 267h1v1h-1zM172 268h1v1h-1zM415 268h1v1h-1zM170 269h2v1h-2zM416 269h1v1h-1zM168 270h2v1h-2zM417 270h1v1h-1zM166 271h2v1h-2zM418 271h1v1h-1zM164 272h2v1h-2zM418 272h1v1h-1zM163 273h1v1h-1zM419 273h1v1h-1zM161 274h2v1h-2zM420 274h1v1h-1zM159 275h2v1h-2zM421 275h1v1h-1zM157 276h2v1h-2zM422 276h1v1h-1zM155 277h2v1h-2zM423 277h1v1h-1zM154 278h1v1h-1zM424 278h1v1h-1zM152 279h2v1h-2zM425 279h1v1h-1zM150 280h2v1h-2zM426 280h1v1h-1zM148 281h2v1h-2zM427 281h1v1h-1zM146 282h2v1h-2zM428 282h1v1h-1zM145 283h1v1h-1zM429 283h1v1h-1zM143 284h2v1h-2zM430 284h1v1h-1zM141 285h2v1h-2zM431 285h1v1h-1zM139 286h2v1h-2zM432 286h1v1h-1zM137 287h2v1h-2zM432 287h1v1h-1zM136 288h1v1h-1zM433 288h1v1h-1zM134 289h2v1h-2zM434 289h1v1h-1zM132 290h2v1h-2zM435 290h1v1h-1zM130 291h2v1h-2zM436 291h1v1h-1zM128 292h2v1h-2zM437 292h1v1h-1zM127 293h1v1h-1zM438 293h1v1h-1zM125 294h2v1h-2zM439 294h1v1h-1zM123 295h2v1h-2zM440 295h1v1h-1zM121 296h2v1h-2zM441 296h1v1h-1zM119 297h2v1h-2zM442 297h1v1h-1zM118 298h1v1h-1zM443 298h1v1h-1zM116 299h2v1h-2zM444 299h1v1h-1zM114 300h2v1h-2zM445 300h1v1h-1zM112 301h2v1h-2zM446 301h1v1h-1zM110 302h2v1h-2zM446 302h1v1h-1zM109 303h1v1h-1zM447 303h1v1h-1zM107 304h2v1h-2zM448 304h1v1h-1zM105 305h2v1h-2zM449 305h1v1h-1zM103 306h2v1h-2zM450 306h1v1h-1zM101 307h2v1h-2zM451 307h1v1h-1zM100 308h1v1h-1zM452 308h1v1h-1zM98 309h2v1h-2zM453 309h1v1h-1zM96 310h2v1h-2zM454 310h1v1h-1zM94 311h2v1h-2zM455 311h1v1h-1zM92 312h2v1h-2zM456 312h1v1h-1zM91 313h1v1h-1zM457 313h1v1h-1zM89 314h2v1h-2zM458 314h1v1h-1zM87 315h2v1h-2zM459 315h1v1h-1zM85 316h2v1h-2zM459 316h1v1h-1zM83 317h2v1h-2zM460 317h1v1h-1zM82 318h1v1h-1zM461 318h1v1h-1zM80 319h2v1h-2zM462 319h1v1h-1zM78 320h2v1h-2zM463 320h1v1h-1zM76 321h2v1h-2zM464 321h1v1h-1zM74 322h2v1h-2zM465 322h1v1h-1zM73 323h1v1h-1zM466 323h1v1h-1zM467 324h1v1h-1zM468 325h1v1h-1zM469 326h1v1h-1zM470 327h1v1h-1zM471 328h1v1h-1zM472 329h1v1h-1zM473 330h1v1h-1zM473 331h1v1h-1zM474 332h1v1h-1zM475 333h1v1h-1zM476 334h1v1h-1zM477 335h1v1h-1zM478 336h1v1h-1zM479 337h1v1h-1zM480 338h1v1h-1zM481 339h1v1h-1zM482 340h1v1h-1zM483 341h1v1h-1zM484 342h1v1h-1zM485 343h1v1h-1zM486 344h1v1h-1zM487 345h1v1h-1zM487 346h1v1h-1zM488 347h1v1h-1zM489 348h1v1h-1zM490 349h1v1h-1zM491 350h1v1h-1zM492 351h1v1h-1zM493 352h1v1h-1zM494 353h1v1h-1zM495 354h1v1h-1zM496 355h1v1h-1zM497 356h1v1h-1zM498 357h1v1h-1zM499 358h1v1h-1zM500 359h1v1h-1zM500 360h1v1h-1zM501 361h1v1h-1zM502 362h1v1h-1zM503 363h1v1h-1zM504 364h1v1h-1zM505 365h1v1h-1zM506 366h1v1h-1zM507 367h1v1h-1z" fill="#ff0000"/><path d="M289 155h2v1h-2zM286 156h3v1h-3zM291 156h2v1h-2zM283 157h3v1h-3zM293 157h1v1h-1zM280 158h3v1h-3zM294 158h2v1h-2zM277 159h3v1h-3zM296 159h2v1h-2zM274 160h3v1h-3zM298 160h1v1h-1zM271 161h3v1h-3zM299 161h2v1h-2zM268 162h3v1h-3zM301 162h1v1h-1zM265 163h3v1h-3zM302 163h2v1h-2zM263 164h2v1h-2zM304 164h1v1h-1zM260 165h3v1h-3zM305 165h2v1h-2zM257 166h3v1h-3zM307 166h1v1h-1zM254 167h3v1h-3zM308 167h2v1h-2zM251 168h3v1h-3zM310 168h2v1h-2zM248 169h3v1h-3zM312 169h1v1h-1zM245 170h3v1h-3zM313 170h2v1h-2zM242 171h3v1h-3zM315 171h1v1h-1zM239 172h3v1h-3zM316 172h2v1h-2zM236 173h3v1h-3zM318 173h1v1h-1zM233 174h3v1h-3zM319 174h2v1h-2zM230 175h3v1h-3zM321 175h2v1h-2zM227 176h3v1h-3zM323 176h1v1h-1zM224 177h3v1h-3zM324 177h2v1h-2zM221 178h3v1h-3zM326 178h1v1h-1zM218 179h3v1h-3zM327 179h2v1h-2zM215 180h3v1h-3zM329 180h1v1h-1zM212 181h3v1h-3zM330 181h2v1h-2zM209 182h3v1h-3zM332 182h2v1h-2zM207 183h2v1h-2zM334 183h1v1h-1zM204 184h3v1h-3zM335 184h2v1h-2zM201 185h3v1h-3zM337 185h1v1h-1zM198 186h3v1h-3zM338 186h2v1h-2zM195 187h3v1h-3zM340 187h1v1h-1zM192 188h3v1h-3zM341 188h2v1h-2zM189 189h3v1h-3zM343 189h1v1h-1zM186 190h3v1h-3zM344 190h2v1h-2zM183 191h3v1h-3zM346 191h2v1h-2zM179 192h4v1h-4zM348 192h1v1h-1zM174 193h5v1h-5zM349 193h2v1h-2zM170 194h4v1h-4zM351 194h1v1h-1zM165 195h5v1h-5zM352 195h2v1h-2zM160 196h5v1h-5zM354 196h1v1h-1zM156 197h4v1h-4zM355 197h2v1h-2zM151 198h5v1h-5zM357 198h2v1h-2zM146 199h5v1h-5zM359 199h1v1h-1zM142 200h4v1h-4zM360 200h2v1h-2zM137 201h5v1h-5zM362 201h1v1h-1zM132 202h5v1h-5zM363 202h2v1h-2zM127 203h5v1h-5zM365 203h1v1h-1zM123 204h4v1h-4zM366 204h2v1h-2zM118 205h5v1h-5zM368 205h2v1h-2zM113 206h5v1h-5zM370 206h1v1h-1zM109 207h4v1h-4zM371 207h2v1h-2zM104 208h5v1h-5zM373 208h1v1h-1zM99 209h5v1h-5zM374 209h2v1h-2zM95 210h4v1h-4zM376 210h1v1h-1zM90 211h5v1h-5zM377 211h2v1h-2zM85 212h5v1h-5zM379 212h1v1h-1zM81 213h4v1h-4zM380 213h2v1h-2zM76 214h5v1h-5zM382 214h2v1h-2zM73 215h3v1h-3zM384 215h1v1h-1zM385 216h2v1h-2zM387 217h1v1h-1zM388 218h2v1h-2zM390 219h1v1h-1zM391 220h2v1h-2zM393 221h2v1h-2zM395 222h1v1h-1zM396 223h2v1h-2zM398 224h6v1h-6zM404 225h11v1h-11zM415 226h11v1h-11zM426 227h11v1h-11zM437 228h11v1h-11zM448 229h10v1h-10zM458 230h11v1h-11zM469 231h11v1h-11zM480 232h11v1h-11zM491 233h11v1h-11zM502 234h6v1h-6z" fill="#00bfbf"/><path d="M287 203h5v1h-5zM281 204h6v1h-6zM292 204h4v1h-4zM274 205h7v1h-7zM296 205h4v1h-4zM268 206h6v1h-6zM300 206h4v1h-4zM262 207h6v1h-6zM304 207h3v1h-3zM255 208h7v1h-7zM307 208h4v1h-4zM249 209h6v1h-6zM311 209h4v1h-4zM242 210h7v1h-7zM315 210h3v1h-3zM236 211h6v1h-6zM318 211h4v1h-4zM230 212h6v1h-6zM322 212h4v1h-4zM223 213h7v1h-7zM326 213h4v1h-4zM217 214h6v1h-6zM330 214h3v1h-3zM210 215h7v1h-7zM333 215h4v1h-4zM204 216h6v1h-6zM337 216h4v1h-4zM198 217h6v1h-6zM341 217h3v1h-3zM191 218h7v1h-7zM344 218h4v1h-4zM185 219h6v1h-6zM348 219h4v1h-4zM178 220h7v1h-7zM352 220h4v1h-4zM170 221h8v1h-8zM356 221h3v1h-3zM162 222h8v1h-8zM359 222h4v1h-4zM154 223h8v1h-8zM363 223h4v1h-4zM147 224h7v1h-7zM367 224h4v1h-4zM139 225h8v1h-8zM371 225h3v1h-3zM131 226h8v1h-8zM374 226h4v1h-4zM124 227h7v1h-7zM378 227h4v1h-4zM116 228h8v1h-8zM382 228h3v1h-3zM108 229h8v1h-8zM385 229h4v1h-4zM100 230h8v1h-8zM389 230h4v1h-4zM93 231h7v1h-7zM393 231h4v1h-4zM85 232h8v1h-8zM397 232h3v1h-3zM77 233h8v1h-8zM400 233h4v1h-4zM73 234h4v1h-4zM404 234h4v1h-4zM408 235h4v1h-4zM412 236h4v1h-4zM416 237h4v1h-4zM420 238h4v1h-4zM424 239h4v1h-4zM428 240h4v1h-4zM432 241h3v1h-3zM435 242h4v1h-4zM439 243h4v1h-4zM443 244h4v1h-4zM447 245h4v1h-4zM451 246h4v1h-4zM455 247h4v1h-4zM459 248h4v1h-4zM463 249h4v1h-4zM467 250h4v1h-4zM471 251h3v1h-3zM474 252h4v1h-4zM478 253h4v1h-4zM482 254h4v1h-4zM486 255h4v1h-4zM490 256h4v1h-4zM494 257h4v1h-4zM498 258h4v1h-4zM502 259h4v1h-4zM506 260h2v1h-2z" fill="#bf00bf"/><path d="M180 242h3v1h-3zM178 243h2v1h-2zM183 243h2v1h-2zM176 244h2v1h-2zM185 244h3v1h-3zM174 245h2v1h-2zM188 245h3v1h-3zM171 246h3v1h-3zM191 246h2v1h-2zM169 247h2v1h-2zM193 247h3v1h-3zM167 248h2v1h-2zM196 248h3v1h-3zM165 249h2v1h-2zM199 249h2v1h-2zM162 250h3v1h-3zM201 250h3v1h-3zM160 251h2v1h-2zM204 251h3v1h-3zM158 252h2v1h-2zM207 252h2v1h-2zM156 253h2v1h-2zM209 253h3v1h-3zM153 254h3v1h-3zM212 254h3v1h-3zM151 255h2v1h-2zM215 255h2v1h-2zM149 256h2v1h-2zM217 256h3v1h-3zM147 257h2v1h-2zM220 257h3v1h-3zM144 258h3v1h-3zM223 258h2v1h-2zM142 259h2v1h-2zM225 259h3v1h-3zM140 260h2v1h-2zM228 260h3v1h-3zM138 261h2v1h-2zM231 261h2v1h-2zM135 262h3v1h-3zM233 262h3v1h-3zM133 263h2v1h-2zM236 263h3v1h-3zM131 264h2v1h-2zM239 264h2v1h-2zM129 265h2v1h-2zM241 265h3v1h-3zM126 266h3v1h-3zM244 266h3v1h-3zM395 266h5v1h-5zM124 267h2v1h-2zM247 267h2v1h-2zM389 267h6v1h-6zM400 267h3v1h-3zM122 268h2v1h-2zM249 268h3v1h-3zM383 268h6v1h-6zM403 268h2v1h-2zM120 269h2v1h-2zM252 269h3v1h-3zM376 269h7v1h-7zM405 269h3v1h-3zM117 270h3v1h-3zM255 270h2v1h-2zM370 270h6v1h-6zM408 270h3v1h-3zM115 271h2v1h-2zM257 271h3v1h-3zM364 271h6v1h-6zM411 271h3v1h-3zM113 272h2v1h-2zM260 272h3v1h-3zM357 272h7v1h-7zM414 272h3v1h-3zM111 273h2v1h-2zM263 273h2v1h-2zM351 273h6v1h-6zM417 273h2v1h-2zM108 274h3v1h-3zM265 274h3v1h-3zM344 274h7v1h-7zM419 274h3v1h-3zM106 275h2v1h-2zM268 275h3v1h-3zM338 275h6v1h-6zM422 275h3v1h-3zM104 276h2v1h-2zM271 276h2v1h-2zM332 276h6v1h-6zM425 276h3v1h-3zM102 277h2v1h-2zM273 277h3v1h-3zM325 277h7v1h-7zM428 277h3v1h-3zM99 278h3v1h-3zM276 278h3v1h-3zM319 278h6v1h-6zM431 278h2v1h-2zM97 279h2v1h-2zM279 279h2v1h-2zM313 279h6v1h-6zM433 279h3v1h-3zM95 280h2v1h-2zM281 280h3v1h-3zM306 280h7v1h-7zM436 280h3v1h-3zM93 281h2v1h-2zM284 281h3v1h-3zM300 281h6v1h-6zM439 281h3v1h-3zM90 282h3v1h-3zM287 282h2v1h-2zM294 282h6v1h-6zM442 282h3v1h-3zM88 283h2v1h-2zM289 283h5v1h-5zM445 283h2v1h-2zM86 284h2v1h-2zM447 284h3v1h-3zM84 285h2v1h-2zM450 285h3v1h-3zM81 286h3v1h-3zM453 286h3v1h-3zM79 287h2v1h-2zM456 287h3v1h-3zM77 288h2v1h-2zM459 288h2v1h-2zM75 289h2v1h-2zM461 289h3v1h-3zM73 290h2v1h-2zM464 290h3v1h-3zM467 291h3v1h-3zM470 292h3v1h-3zM473 293h2v1h-2zM475 294h3v1h-3zM478 295h3v1h-3zM481 296h3v1h-3zM484 297h3v1h-3zM487 298h2v1h-2zM489 299h3v1h-3zM492 300h3v1h-3zM495 301h3v1h-3zM498 302h3v1h-3zM501 303h2v1h-2zM503 304h3v1h-3zM506 305h2v1h-2z" fill="#bfbf00"/><path d="M285 217h10v1h-10zM274 218h11v1h-11zM295 218h9v1h-9zM263 219h11v1h-11zM304 219h9v1h-9zM252 220h11v1h-11zM313 220h9v1h-9zM241 221h11v1h-11zM322 221h9v1h-9zM231 222h10v1h-10zM331 222h9v1h-9zM220 223h11v1h-11zM340 223h9v1h-9zM209 224h11v1h-11zM349 224h9v1h-9zM198 225h11v1h-11zM358 225h9v1h-9zM187 226h11v1h-11zM367 226h9v1h-9zM180 227h7v1h-7zM376 227h9v1h-9zM177 228h3v1h-3zM385 228h9v1h-9zM173 229h4v1h-4zM394 229h15v1h-15zM170 230h3v1h-3zM409 230h22v1h-22zM167 231h3v1h-3zM431 231h22v1h-22zM163 232h4v1h-4zM453 232h22v1h-22zM160 233h3v1h-3zM475 233h22v1h-22zM157 234h3v1h-3zM497 234h11v1h-11zM154 235h3v1h-3zM150 236h4v1h-4zM147 237h3v1h-3zM144 238h3v1h-3zM141 239h3v1h-3zM137 240h4v1h-4zM134 241h3v1h-3zM131 242h3v1h-3zM127 243h4v1h-4zM124 244h3v1h-3zM121 245h3v1h-3zM118 246h3v1h-3zM114 247h4v1h-4zM111 248h3v1h-3zM108 249h3v1h-3zM105 250h3v1h-3zM101 251h4v1h-4zM98 252h3v1h-3zM95 253h3v1h-3zM91 254h4v1h-4zM88 255h3v1h-3zM85 256h3v1h-3zM82 257h3v1h-3zM78 258h4v1h-4zM75 259h3v1h-3zM73 260h2v1h-2z" fill="#404040"/><path d="M289 192h2v1h-2zM286 193h3v1h-3zM291 193h2v1h-2zM284 194h2v1h-2zM293 194h2v1h-2zM281 195h3v1h-3zM295 195h1v1h-1zM278 196h3v1h-3zM296 196h2v1h-2zM276 197h2v1h-2zM298 197h2v1h-2zM273 198h3v1h-3zM300 198h1v1h-1zM270 199h3v1h-3zM301 199h2v1h-2zM267 200h3v1h-3zM303 200h2v1h-2zM265 201h2v1h-2zM305 201h2v1h-2zM262 202h3v1h-3zM307 202h1v1h-1zM259 203h3v1h-3zM308 203h2v1h-2zM256 204h3v1h-3zM310 204h2v1h-2zM254 205h2v1h-2zM312 205h1v1h-1zM251 206h3v1h-3zM313 206h2v1h-2zM248 207h3v1h-3zM315 207h2v1h-2zM246 208h2v1h-2zM317 208h1v1h-1zM243 209h3v1h-3zM318 209h2v1h-2zM240 210h3v1h-3zM320 210h2v1h-2zM237 211h3v1h-3zM322 211h1v1h-1zM235 212h2v1h-2zM323 212h2v1h-2zM232 213h3v1h-3zM325 213h2v1h-2zM229 214h3v1h-3zM327 214h1v1h-1zM226 215h3v1h-3zM328 215h2v1h-2zM224 216h2v1h-2zM330 216h2v1h-2zM221 217h3v1h-3zM332 217h2v1h-2zM218 218h3v1h-3zM334 218h1v1h-1zM216 219h2v1h-2zM335 219h2v1h-2zM213 220h3v1h-3zM337 220h2v1h-2zM210 221h3v1h-3zM339 221h1v1h-1zM207 222h3v1h-3zM340 222h2v1h-2zM205 223h2v1h-2zM342 223h2v1h-2zM202 224h3v1h-3zM344 224h1v1h-1zM199 225h3v1h-3zM345 225h2v1h-2zM196 226h3v1h-3zM347 226h2v1h-2zM194 227h2v1h-2zM349 227h1v1h-1zM191 228h3v1h-3zM350 228h2v1h-2zM188 229h3v1h-3zM352 229h2v1h-2zM186 230h2v1h-2zM354 230h1v1h-1zM183 231h3v1h-3zM355 231h2v1h-2zM127 232h56v1h-56zM357 232h2v1h-2zM73 233h54v1h-54zM359 233h2v1h-2zM361 234h1v1h-1zM362 235h2v1h-2zM364 236h2v1h-2zM366 237h1v1h-1zM367 238h2v1h-2zM369 239h2v1h-2zM371 240h1v1h-1zM372 241h2v1h-2zM374 242h2v1h-2zM376 243h1v1h-1zM377 244h2v1h-2zM379 245h2v1h-2zM381 246h1v1h-1zM382 247h2v1h-2zM384 248h2v1h-2zM386 249h2v1h-2zM388 250h1v1h-1zM389 251h2v1h-2zM391 252h2v1h-2zM393 253h1v1h-1zM394 254h2v1h-2zM396 255h2v1h-2zM398 256h1v1h-1zM399 257h2v1h-2zM401 258h1v1h-1zM402 259h1v1h-1zM403 260h2v1h-2zM405 261h1v1h-1zM406 262h2v1h-2zM408 263h1v1h-1zM409 264h1v1h-1zM410 265h2v1h-2zM412 266h1v1h-1zM413 267h2v1h-2zM415 268h1v1h-1zM416 269h1v1h-1zM417 270h2v1h-2zM419 271h1v1h-1zM420 272h2v1h-2zM422 273h1v1h-1zM423 274h1v1h-1zM424 275h2v1h-2zM426 276h1v1h-1zM427 277h2v1h-2zM429 278h1v1h-1zM430 279h1v1h-1zM431 280h2v1h-2zM433 281h1v1h-1zM434 282h2v1h-2zM436 283h1v1h-1zM437 284h1v1h-1zM438 285h2v1h-2zM440 286h1v1h-1zM441 287h2v1h-2zM443 288h1v1h-1zM444 289h1v1h-1zM445 290h2v1h-2zM447 291h1v1h-1zM448 292h2v1h-2zM450 293h1v1h-1zM451 294h1v1h-1zM452 295h2v1h-2zM454 296h1v1h-1zM455 297h1v1h-1zM456 298h2v1h-2zM458 299h1v1h-1zM459 300h2v1h-2zM461 301h1v1h-1zM462 302h1v1h-1zM463 303h2v1h-2zM465 304h1v1h-1zM466 305h2v1h-2zM468 306h1v1h-1zM469 307h1v1h-1zM470 308h2v1h-2zM472 309h1v1h-1zM473 310h2v1h-2zM475 311h1v1h-1zM476 312h1v1h-1zM477 313h2v1h-2zM479 314h1v1h-1zM480 315h2v1h-2zM482 316h1v1h-1zM483 317h1v1h-1zM484 318h2v1h-2zM486 319h1v1h-1zM487 320h2v1h-2zM489 321h1v1h-1zM490 322h1v1h-1zM491 323h2v1h-2zM493 324h1v1h-1zM494 325h2v1h-2zM496 326h1v1h-1zM497 327h1v1h-1zM498 328h2v1h-2zM500 329h1v1h-1zM501 330h2v1h-2zM503 331h1v1h-1zM504 332h1v1h-1zM505 333h2v1h-2zM507 334h1v1h-1z" fill="#0000ff"/><path d="M289 74h3v1h-3zM285 75h4v1h-4zM292 75h2v1h-2zM281 76h4v1h-4zM294 76h2v1h-2zM277 77h4v1h-4zM296 77h2v1h-2zM273 78h4v1h-4zM298 78h2v1h-2zM269 79h4v1h-4zM300 79h3v1h-3zM265 80h4v1h-4zM303 80h2v1h-2zM261 81h4v1h-4zM305 81h2v1h-2zM257 82h4v1h-4zM307 82h2v1h-2zM254 83h3v1h-3zM309 83h2v1h-2zM250 84h4v1h-4zM311 84h3v1h-3zM246 85h4v1h-4zM314 85h2v1h-2zM242 86h4v1h-4zM316 86h2v1h-2zM238 87h4v1h-4zM318 87h2v1h-2zM234 88h4v1h-4zM320 88h2v1h-2zM230 89h4v1h-4zM322 89h3v1h-3zM226 90h4v1h-4zM325 90h2v1h-2zM222 91h4v1h-4zM327 91h2v1h-2zM218 92h4v1h-4zM329 92h2v1h-2zM215 93h3v1h-3zM331 93h2v1h-2zM211 94h4v1h-4zM333 94h3v1h-3zM207 95h4v1h-4zM336 95h2v1h-2zM203 96h4v1h-4zM338 96h2v1h-2zM199 97h4v1h-4zM340 97h2v1h-2zM195 98h4v1h-4zM342 98h2v1h-2zM191 99h4v1h-4zM344 99h3v1h-3zM187 100h4v1h-4zM347 100h2v1h-2zM183 101h4v1h-4zM349 101h2v1h-2zM179 102h4v1h-4zM351 102h2v1h-2zM173 103h6v1h-6zM353 103h3v1h-3zM167 104h6v1h-6zM356 104h2v1h-2zM162 105h5v1h-5zM358 105h2v1h-2zM156 106h6v1h-6zM360 106h2v1h-2zM150 107h6v1h-6zM362 107h2v1h-2zM145 108h5v1h-5zM364 108h3v1h-3zM139 109h6v1h-6zM367 109h2v1h-2zM133 110h6v1h-6zM369 110h2v1h-2zM127 111h6v1h-6zM371 111h2v1h-2zM122 112h5v1h-5zM373 112h2v1h-2zM116 113h6v1h-6zM375 113h3v1h-3zM110 114h6v1h-6zM378 114h2v1h-2zM105 115h5v1h-5zM380 115h2v1h-2zM99 116h6v1h-6zM382 116h2v1h-2zM93 117h6v1h-6zM384 117h2v1h-2zM88 118h5v1h-5zM386 118h3v1h-3zM82 119h6v1h-6zM389 119h2v1h-2zM76 120h6v1h-6zM391 120h2v1h-2zM73 121h3v1h-3zM393 121h2v1h-2zM395 122h2v1h-2zM397 123h3v1h-3zM400 124h2v1h-2zM402 125h2v1h-2zM404 126h2v1h-2zM406 127h2v1h-2zM408 128h2v1h-2zM410 129h2v1h-2zM412 130h2v1h-2zM414 131h2v1h-2zM416 132h2v1h-2zM418 133h2v1h-2zM420 134h2v1h-2zM422 135h2v1h-2zM424 136h2v1h-2zM426 137h2v1h-2zM428 138h2v1h-2zM430 139h2v1h-2zM432 140h2v1h-2zM434 141h2v1h-2zM436 142h2v1h-2zM438 143h2v1h-2zM440 144h2v1h-2zM442 145h2v1h-2zM444 146h2v1h-2zM446 147h2v1h-2zM448 148h2v1h-2zM450 149h2v1h-2zM452 150h2v1h-2zM454 151h2v1h-2zM456 152h2v1h-2zM458 153h2v1h-2zM460 154h2v1h-2zM462 155h2v1h-2zM464 156h2v1h-2zM466 157h2v1h-2zM468 158h2v1h-2zM470 159h2v1h-2zM472 160h2v1h-2zM474 161h2v1h-2zM476 162h2v1h-2zM478 163h2v1h-2zM480 164h2v1h-2zM482 165h2v1h-2zM484 166h2v1h-2zM486 167h2v1h-2zM488 168h2v1h-2zM490 169h2v1h-2zM492 170h2v1h-2zM494 171h2v1h-2zM496 172h2v1h-2zM498 173h2v1h-2zM500 174h2v1h-2zM502 175h2v1h-2zM504 176h2v1h-2zM506 177h2v1h-2z" fill="#008000"/><path d="M277 110h15v1h-15zM250 111h27v1h-27zM292 111h4v1h-4zM222 112h28v1h-28zM296 112h3v1h-3zM195 113h27v1h-27zM299 113h3v1h-3zM180 114h15v1h-15zM302 114h4v1h-4zM177 115h3v1h-3zM306 115h3v1h-3zM174 116h3v1h-3zM309 116h3v1h-3zM171 117h3v1h-3zM312 117h4v1h-4zM168 118h3v1h-3zM316 118h3v1h-3zM165 119h3v1h-3zM319 119h4v1h-4zM162 120h3v1h-3zM323 120h3v1h-3zM159 121h3v1h-3zM326 121h3v1h-3zM156 122h3v1h-3zM329 122h4v1h-4zM153 123h3v1h-3zM333 123h3v1h-3zM150 124h3v1h-3zM336 124h3v1h-3zM147 125h3v1h-3zM339 125h4v1h-4zM144 126h3v1h-3zM343 126h3v1h-3zM141 127h3v1h-3zM346 127h4v1h-4zM138 128h3v1h-3zM350 128h3v1h-3zM135 129h3v1h-3zM353 129h3v1h-3zM132 130h3v1h-3zM356 130h4v1h-4zM129 131h3v1h-3zM360 131h3v1h-3zM126 132h3v1h-3zM363 132h3v1h-3zM123 133h3v1h-3zM366 133h4v1h-4zM120 134h3v1h-3zM370 134h3v1h-3zM117 135h3v1h-3zM373 135h4v1h-4zM114 136h3v1h-3zM377 136h3v1h-3zM111 137h3v1h-3zM380 137h3v1h-3zM108 138h3v1h-3zM383 138h4v1h-4zM105 139h3v1h-3zM387 139h3v1h-3zM102 140h3v1h-3zM390 140h3v1h-3zM99 141h3v1h-3zM393 141h4v1h-4zM96 142h3v1h-3zM397 142h3v1h-3zM93 143h3v1h-3zM400 143h4v1h-4zM90 144h3v1h-3zM404 144h3v1h-3zM87 145h3v1h-3zM407 145h4v1h-4zM84 146h3v1h-3zM411 146h3v1h-3zM81 147h3v1h-3zM414 147h4v1h-4zM78 148h3v1h-3zM418 148h3v1h-3zM75 149h3v1h-3zM421 149h4v1h-4zM73 150h2v1h-2zM425 150h3v1h-3zM428 151h4v1h-4zM432 152h3v1h-3zM435 153h4v1h-4zM439 154h3v1h-3zM442 155h4v1h-4zM446 156h3v1h-3zM449 157h4v1h-4zM453 158h4v1h-4zM457 159h3v1h-3zM460 160h4v1h-4zM464 161h3v1h-3zM467 162h4v1h-4zM471 163h3v1h-3zM474 164h4v1h-4zM478 165h3v1h-3zM481 166h4v1h-4zM485 167h3v1h-3zM488 168h4v1h-4zM492 169h3v1h-3zM495 170h4v1h-4zM499 171h3v1h-3zM502 172h4v1h-4zM506 173h2v1h-2z" fill="#ff0000"/><path d="M163 129h37v1h-37zM127 130h36v1h-36zM200 130h36v1h-36zM91 131h36v1h-36zM236 131h36v1h-36zM73 132h18v1h-18zM272 132h20v1h-20zM292 133h2v1h-2zM294 134h3v1h-3zM297 135h2v1h-2zM299 136h3v1h-3zM302 137h3v1h-3zM305 138h2v1h-2zM307 139h3v1h-3zM310 140h2v1h-2zM312 141h3v1h-3zM315 142h2v1h-2zM317 143h3v1h-3zM320 144h3v1h-3zM323 145h2v1h-2zM325 146h3v1h-3zM328 147h2v1h-2zM330 148h3v1h-3zM333 149h2v1h-2zM335 150h3v1h-3zM338 151h3v1h-3zM341 152h2v1h-2zM343 153h3v1h-3zM346 154h2v1h-2zM348 155h3v1h-3zM351 156h2v1h-2zM353 157h3v1h-3zM356 158h3v1h-3zM359 159h2v1h-2zM361 160h3v1h-3zM364 161h2v1h-2zM366 162h3v1h-3zM369 163h2v1h-2zM371 164h3v1h-3zM374 165h3v1h-3zM377 166h2v1h-2zM379 167h3v1h-3zM382 168h2v1h-2zM384 169h3v1h-3zM387 170h2v1h-2zM389 171h3v1h-3zM392 172h3v1h-3zM395 173h2v1h-2zM397 174h3v1h-3zM400 175h2v1h-2zM402 176h2v1h-2zM404 177h2v1h-2zM406 178h2v1h-2zM408 179h2v1h-2zM410 180h2v1h-2zM412 181h2v1h-2zM414 182h2v1h-2zM416 183h2v1h-2zM418 184h2v1h-2zM420 185h2v1h-2zM422 186h2v1h-2zM424 187h2v1h-2zM426 188h2v1h-2zM428 189h2v1h-2zM430 190h2v1h-2zM432 191h2v1h-2zM434 192h2v1h-2zM436 193h2v1h-2zM438 194h2v1h-2zM440 195h2v1h-2zM442 196h2v1h-2zM444 197h2v1h-2zM446 198h2v1h-2zM448 199h2v1h-2zM450 200h2v1h-2zM452 201h2v1h-2zM454 202h2v1h-2zM456 203h2v1h-2zM458 204h2v1h-2zM460 205h2v1h-2zM462 206h2v1h-2zM464 207h2v1h-2zM466 208h2v1h-2zM468 209h2v1h-2zM470 210h2v1h-2zM472 211h2v1h-2zM474 212h2v1h-2zM476 213h2v1h-2zM478 214h2v1h-2zM480 215h2v1h-2zM482 216h2v1h-2zM484 217h2v1h-2zM486 218h2v1h-2zM488 219h2v1h-2zM490 220h2v1h-2zM492 221h2v1h-2zM494 222h2v1h-2zM496 223h2v1h-2zM498 224h2v1h-2zM500 225h2v1h-2zM502 226h2v1h-2zM504 227h2v1h-2zM506 228h2v1h-2z" fill="#00bfbf"/><path d="M288 94h3v1h-3zM284 95h4v1h-4zM291 95h2v1h-2zM280 96h4v1h-4zM293 96h2v1h-2zM275 97h5v1h-5zM295 97h2v1h-2zM271 98h4v1h-4zM297 98h2v1h-2zM267 99h4v1h-4zM299 99h1v1h-1zM262 100h5v1h-5zM300 100h2v1h-2zM258 101h4v1h-4zM302 101h2v1h-2zM253 102h5v1h-5zM304 102h2v1h-2zM249 103h4v1h-4zM306 103h2v1h-2zM245 104h4v1h-4zM308 104h1v1h-1zM240 105h5v1h-5zM309 105h2v1h-2zM236 106h4v1h-4zM311 106h2v1h-2zM232 107h4v1h-4zM313 107h2v1h-2zM227 108h5v1h-5zM315 108h2v1h-2zM223 109h4v1h-4zM317 109h1v1h-1zM219 110h4v1h-4zM318 110h2v1h-2zM214 111h5v1h-5zM320 111h2v1h-2zM210 112h4v1h-4zM322 112h2v1h-2zM205 113h5v1h-5zM324 113h2v1h-2zM201 114h4v1h-4zM326 114h1v1h-1zM197 115h4v1h-4zM327 115h2v1h-2zM192 116h5v1h-5zM329 116h2v1h-2zM188 117h4v1h-4zM331 117h2v1h-2zM184 118h4v1h-4zM333 118h2v1h-2zM177 119h7v1h-7zM335 119h1v1h-1zM169 120h8v1h-8zM336 120h2v1h-2zM161 121h8v1h-8zM338 121h2v1h-2zM152 122h9v1h-9zM340 122h2v1h-2zM144 123h8v1h-8zM342 123h2v1h-2zM136 124h8v1h-8zM344 124h1v1h-1zM127 125h9v1h-9zM345 125h2v1h-2zM119 126h8v1h-8zM347 126h2v1h-2zM111 127h8v1h-8zM349 127h2v1h-2zM103 128h8v1h-8zM351 128h2v1h-2zM94 129h9v1h-9zM353 129h1v1h-1zM86 130h8v1h-8zM354 130h2v1h-2zM78 131h8v1h-8zM356 131h2v1h-2zM73 132h5v1h-5zM358 132h2v1h-2zM360 133h2v1h-2zM362 134h1v1h-1zM363 135h2v1h-2zM365 136h2v1h-2zM367 137h2v1h-2zM369 138h2v1h-2zM371 139h1v1h-1zM372 140h2v1h-2zM374 141h2v1h-2zM376 142h2v1h-2zM378 143h2v1h-2zM380 144h1v1h-1zM381 145h2v1h-2zM383 146h2v1h-2zM385 147h2v1h-2zM387 148h2v1h-2zM389 149h1v1h-1zM390 150h2v1h-2zM392 151h2v1h-2zM394 152h2v1h-2zM396 153h2v1h-2zM398 154h1v1h-1zM399 155h1v1h-1zM400 156h2v1h-2zM402 157h1v1h-1zM403 158h1v1h-1zM404 159h1v1h-1zM405 160h2v1h-2zM407 161h1v1h-1zM408 162h1v1h-1zM409 163h1v1h-1zM410 164h2v1h-2zM412 165h1v1h-1zM413 166h1v1h-1zM414 167h1v1h-1zM415 168h2v1h-2zM417 169h1v1h-1zM418 170h1v1h-1zM419 171h1v1h-1zM420 172h2v1h-2zM422 173h1v1h-1zM423 174h1v1h-1zM424 175h1v1h-1zM425 176h2v1h-2zM427 177h1v1h-1zM428 178h1v1h-1zM429 179h1v1h-1zM430 180h2v1h-2zM432 181h1v1h-1zM433 182h1v1h-1zM434 183h1v1h-1zM435 184h2v1h-2zM437 185h1v1h-1zM438 186h1v1h-1zM439 187h1v1h-1zM440 188h2v1h-2zM442 189h1v1h-1zM443 190h1v1h-1zM444 191h1v1h-1zM445 192h2v1h-2zM447 193h1v1h-1zM448 194h1v1h-1zM449 195h1v1h-1zM450 196h2v1h-2zM452 197h1v1h-1zM453 198h1v1h-1zM454 199h2v1h-2zM456 200h1v1h-1zM457 201h1v1h-1zM458 202h1v1h-1zM459 203h2v1h-2zM461 204h1v1h-1zM462 205h1v1h-1zM463 206h1v1h-1zM464 207h2v1h-2zM466 208h1v1h-1zM467 209h1v1h-1zM468 210h1v1h-1zM469 211h2v1h-2zM471 212h1v1h-1zM472 213h1v1h-1zM473 214h1v1h-1zM474 215h2v1h-2zM476 216h1v1h-1zM477 217h1v1h-1zM478 218h1v1h-1zM479 219h2v1h-2zM481 220h1v1h-1zM482 221h1v1h-1zM483 222h1v1h-1zM484 223h2v1h-2zM486 224h1v1h-1zM487 225h1v1h-1zM488 226h1v1h-1zM489 227h2v1h-2zM491 228h1v1h-1zM492 229h1v1h-1zM493 230h1v1h-1zM494 231h2v1h-2zM496 232h1v1h-1zM497 233h1v1h-1zM498 234h1v1h-1zM499 235h2v1h-2zM501 236h1v1h-1zM502 237h1v1h-1zM503 238h1v1h-1zM504 239h2v1h-2zM506 240h1v1h-1zM507 241h1v1h-1z" fill="#bf00bf"/><path d="M180 143h3v1h-3zM176 144h4v1h-4zM183 144h3v1h-3zM172 145h4v1h-4zM186 145h4v1h-4zM168 146h4v1h-4zM190 146h3v1h-3zM165 147h3v1h-3zM193 147h3v1h-3zM161 148h4v1h-4zM196 148h3v1h-3zM157 149h4v1h-4zM199 149h3v1h-3zM154 150h3v1h-3zM202 150h4v1h-4zM150 151h4v1h-4zM206 151h3v1h-3zM146 152h4v1h-4zM209 152h3v1h-3zM142 153h4v1h-4zM212 153h3v1h-3zM139 154h3v1h-3zM215 154h3v1h-3zM135 155h4v1h-4zM218 155h4v1h-4zM131 156h4v1h-4zM222 156h3v1h-3zM127 157h4v1h-4zM225 157h3v1h-3zM124 158h3v1h-3zM228 158h3v1h-3zM120 159h4v1h-4zM231 159h3v1h-3zM116 160h4v1h-4zM234 160h4v1h-4zM113 161h3v1h-3zM238 161h3v1h-3zM109 162h4v1h-4zM241 162h3v1h-3zM105 163h4v1h-4zM244 163h3v1h-3zM101 164h4v1h-4zM247 164h3v1h-3zM98 165h3v1h-3zM250 165h4v1h-4zM94 166h4v1h-4zM254 166h3v1h-3zM90 167h4v1h-4zM257 167h3v1h-3zM87 168h3v1h-3zM260 168h3v1h-3zM83 169h4v1h-4zM263 169h3v1h-3zM79 170h4v1h-4zM266 170h4v1h-4zM75 171h4v1h-4zM270 171h3v1h-3zM73 172h2v1h-2zM273 172h3v1h-3zM276 173h3v1h-3zM279 174h3v1h-3zM282 175h4v1h-4zM286 176h3v1h-3zM289 177h28v1h-28zM317 178h54v1h-54zM371 179h28v1h-28zM399 180h2v1h-2zM401 181h2v1h-2zM403 182h1v1h-1zM404 183h2v1h-2zM406 184h1v1h-1zM407 185h2v1h-2zM409 186h2v1h-2zM411 187h1v1h-1zM412 188h2v1h-2zM414 189h2v1h-2zM416 190h1v1h-1zM417 191h2v1h-2zM419 192h1v1h-1zM420 193h2v1h-2zM422 194h2v1h-2zM424 195h1v1h-1zM425 196h2v1h-2zM427 197h2v1h-2zM429 198h1v1h-1zM430 199h2v1h-2zM432 200h1v1h-1zM433 201h2v1h-2zM435 202h2v1h-2zM437 203h1v1h-1zM438 204h2v1h-2zM440 205h2v1h-2zM442 206h1v1h-1zM443 207h2v1h-2zM445 208h1v1h-1zM446 209h2v1h-2zM448 210h2v1h-2zM450 211h1v1h-1zM451 212h2v1h-2zM453 213h2v1h-2zM455 214h1v1h-1zM456 215h2v1h-2zM458 216h2v1h-2zM460 217h1v1h-1zM461 218h2v1h-2zM463 219h1v1h-1zM464 220h2v1h-2zM466 221h2v1h-2zM468 222h1v1h-1zM469 223h2v1h-2zM471 224h2v1h-2zM473 225h1v1h-1zM474 226h2v1h-2zM476 227h1v1h-1zM477 228h2v1h-2zM479 229h2v1h-2zM481 230h1v1h-1zM482 231h2v1h-2zM484 232h2v1h-2zM486 233h1v1h-1zM487 234h2v1h-2zM489 235h1v1h-1zM490 236h2v1h-2zM492 237h2v1h-2zM494 238h1v1h-1zM495 239h2v1h-2zM497 240h2v1h-2zM499 241h1v1h-1zM500 242h2v1h-2zM502 243h1v1h-1zM503 244h2v1h-2zM505 245h2v1h-2zM507 246h1v1h-1z" fill="#bfbf00"/><path d="M395 121h5v1h-5zM388 122h7v1h-7zM400 122h3v1h-3zM380 123h8v1h-8zM403 123h3v1h-3zM373 124h7v1h-7zM406 124h3v1h-3zM366 125h7v1h-7zM409 125h2v1h-2zM359 126h7v1h-7zM411 126h3v1h-3zM352 127h7v1h-7zM414 127h3v1h-3zM344 128h8v1h-8zM417 128h3v1h-3zM337 129h7v1h-7zM420 129h3v1h-3zM330 130h7v1h-7zM423 130h3v1h-3zM323 131h7v1h-7zM426 131h3v1h-3zM316 132h7v1h-7zM429 132h2v1h-2zM308 133h8v1h-8zM431 133h3v1h-3zM176 134h33v1h-33zM301 134h7v1h-7zM434 134h3v1h-3zM165 135h11v1h-11zM209 135h54v1h-54zM294 135h7v1h-7zM437 135h3v1h-3zM154 136h11v1h-11zM263 136h31v1h-31zM440 136h3v1h-3zM144 137h10v1h-10zM443 137h3v1h-3zM133 138h11v1h-11zM446 138h3v1h-3zM122 139h11v1h-11zM449 139h3v1h-3zM111 140h11v1h-11zM452 140h2v1h-2zM100 141h11v1h-11zM454 141h3v1h-3zM90 142h10v1h-10zM457 142h3v1h-3zM79 143h11v1h-11zM460 143h3v1h-3zM73 144h6v1h-6zM463 144h3v1h-3zM466 145h3v1h-3zM469 146h3v1h-3zM472 147h3v1h-3zM475 148h2v1h-2zM477 149h3v1h-3zM480 150h3v1h-3zM483 151h3v1h-3zM486 152h3v1h-3zM489 153h3v1h-3zM492 154h3v1h-3zM495 155h2v1h-2zM497 156h3v1h-3zM500 157h3v1h-3zM503 158h3v1h-3zM506 159h2v1h-2z" fill="#404040"/><path d="M284 116h8v1h-8zM272 117h12v1h-12zM292 117h2v1h-2zM260 118h12v1h-12zM294 118h3v1h-3zM248 119h12v1h-12zM297 119h3v1h-3zM236 120h12v1h-12zM300 120h2v1h-2zM224 121h12v1h-12zM302 121h3v1h-3zM212 122h12v1h-12zM305 122h3v1h-3zM200 123h12v1h-12zM308 123h2v1h-2zM188 124h12v1h-12zM310 124h3v1h-3zM179 125h9v1h-9zM313 125h3v1h-3zM174 126h5v1h-5zM316 126h2v1h-2zM169 127h5v1h-5zM318 127h3v1h-3zM164 128h5v1h-5zM321 128h2v1h-2zM159 129h5v1h-5zM323 129h3v1h-3zM154 130h5v1h-5zM326 130h3v1h-3zM150 131h4v1h-4zM329 131h2v1h-2zM145 132h5v1h-5zM331 132h3v1h-3zM140 133h5v1h-5zM334 133h3v1h-3zM135 134h5v1h-5zM337 134h2v1h-2zM130 135h5v1h-5zM339 135h3v1h-3zM125 136h5v1h-5zM342 136h2v1h-2zM120 137h5v1h-5zM344 137h3v1h-3zM115 138h5v1h-5zM347 138h3v1h-3zM110 139h5v1h-5zM350 139h2v1h-2zM105 140h5v1h-5zM352 140h3v1h-3zM100 141h5v1h-5zM355 141h3v1h-3zM96 142h4v1h-4zM358 142h2v1h-2zM91 143h5v1h-5zM360 143h3v1h-3zM86 144h5v1h-5zM363 144h3v1h-3zM81 145h5v1h-5zM366 145h2v1h-2zM76 146h5v1h-5zM368 146h3v1h-3zM73 147h3v1h-3zM371 147h2v1h-2zM373 148h3v1h-3zM376 149h3v1h-3zM379 150h2v1h-2zM381 151h3v1h-3zM384 152h3v1h-3zM387 153h2v1h-2zM389 154h3v1h-3zM392 155h3v1h-3zM395 156h2v1h-2zM397 157h3v1h-3zM400 158h2v1h-2zM402 159h2v1h-2zM404 160h2v1h-2zM406 161h2v1h-2zM408 162h2v1h-2zM410 163h2v1h-2zM412 164h2v1h-2zM414 165h2v1h-2zM416 166h2v1h-2zM418 167h2v1h-2zM420 168h2v1h-2zM422 169h2v1h-2zM424 170h2v1h-2zM426 171h2v1h-2zM428 172h2v1h-2zM430 173h2v1h-2zM432 174h2v1h-2zM434 175h3v1h-3zM437 176h2v1h-2zM439 177h2v1h-2zM441 178h2v1h-2zM443 179h2v1h-2zM445 180h2v1h-2zM447 181h2v1h-2zM449 182h2v1h-2zM451 183h2v1h-2zM453 184h2v1h-2zM455 185h2v1h-2zM457 186h2v1h-2zM459 187h2v1h-2zM461 188h2v1h-2zM463 189h2v1h-2zM465 190h2v1h-2zM467 191h2v1h-2zM469 192h3v1h-3zM472 193h2v1h-2zM474 194h2v1h-2zM476 195h2v1h-2zM478 196h2v1h-2zM480 197h2v1h-2zM482 198h2v1h-2zM484 199h2v1h-2zM486 200h2v1h-2zM488 201h2v1h-2zM490 202h2v1h-2zM492 203h2v1h-2zM494 204h2v1h-2zM496 205h2v1h-2zM498 206h2v1h-2zM500 207h2v1h-2zM502 208h2v1h-2zM504 209h2v1h-2zM506 210h2v1h-2z" fill="#0000ff"/><path d="M180 113h4v1h-4zM177 114h3v1h-3zM184 114h6v1h-6zM173 115h4v1h-4zM190 115h6v1h-6zM170 116h3v1h-3zM196 116h6v1h-6zM167 117h3v1h-3zM202 117h5v1h-5zM163 118h4v1h-4zM207 118h6v1h-6zM160 119h3v1h-3zM213 119h6v1h-6zM157 120h3v1h-3zM219 120h6v1h-6zM154 121h3v1h-3zM225 121h5v1h-5zM150 122h4v1h-4zM230 122h6v1h-6zM147 123h3v1h-3zM236 123h6v1h-6zM392 123h7v1h-7zM144 124h3v1h-3zM242 124h5v1h-5zM380 124h12v1h-12zM399 124h2v1h-2zM141 125h3v1h-3zM247 125h6v1h-6zM368 125h12v1h-12zM401 125h2v1h-2zM137 126h4v1h-4zM253 126h6v1h-6zM356 126h12v1h-12zM403 126h1v1h-1zM134 127h3v1h-3zM259 127h6v1h-6zM344 127h12v1h-12zM404 127h2v1h-2zM131 128h3v1h-3zM265 128h5v1h-5zM332 128h12v1h-12zM406 128h2v1h-2zM127 129h4v1h-4zM270 129h6v1h-6zM320 129h12v1h-12zM408 129h1v1h-1zM124 130h3v1h-3zM276 130h6v1h-6zM308 130h12v1h-12zM409 130h2v1h-2zM121 131h3v1h-3zM282 131h6v1h-6zM296 131h12v1h-12zM411 131h2v1h-2zM118 132h3v1h-3zM288 132h8v1h-8zM413 132h1v1h-1zM114 133h4v1h-4zM414 133h2v1h-2zM111 134h3v1h-3zM416 134h1v1h-1zM108 135h3v1h-3zM417 135h2v1h-2zM105 136h3v1h-3zM419 136h2v1h-2zM101 137h4v1h-4zM421 137h1v1h-1zM98 138h3v1h-3zM422 138h2v1h-2zM95 139h3v1h-3zM424 139h2v1h-2zM91 140h4v1h-4zM426 140h1v1h-1zM88 141h3v1h-3zM427 141h2v1h-2zM85 142h3v1h-3zM429 142h2v1h-2zM82 143h3v1h-3zM431 143h1v1h-1zM78 144h4v1h-4zM432 144h2v1h-2zM75 145h3v1h-3zM434 145h2v1h-2zM73 146h2v1h-2zM436 146h1v1h-1zM437 147h2v1h-2zM439 148h2v1h-2zM441 149h1v1h-1zM442 150h2v1h-2zM444 151h2v1h-2zM446 152h1v1h-1zM447 153h2v1h-2zM449 154h2v1h-2zM451 155h1v1h-1zM452 156h2v1h-2zM454 157h1v1h-1zM455 158h2v1h-2zM457 159h2v1h-2zM459 160h1v1h-1zM460 161h2v1h-2zM462 162h2v1h-2zM464 163h1v1h-1zM465 164h2v1h-2zM467 165h2v1h-2zM469 166h1v1h-1zM470 167h2v1h-2zM472 168h2v1h-2zM474 169h1v1h-1zM475 170h2v1h-2zM477 171h2v1h-2zM479 172h1v1h-1zM480 173h2v1h-2zM482 174h2v1h-2zM484 175h1v1h-1zM485 176h2v1h-2zM487 177h2v1h-2zM489 178h1v1h-1zM490 179h2v1h-2zM492 180h1v1h-1zM493 181h2v1h-2zM495 182h2v1h-2zM497 183h1v1h-1zM498 184h2v1h-2zM500 185h2v1h-2zM502 186h1v1h-1zM503 187h2v1h-2zM505 188h2v1h-2zM507 189h1v1h-1z" fill="#008000"/>
</g>
<g fill="none" stroke="#000" stroke-width="1" shape-rendering="crispEdges">
<rect x="73.5" y="32.5" width="434" height="342"/>
<path d="M73.5 374V369M73.5 32V37M127.5 374V369M127.5 32V37M181.5 374V369M181.5 32V37M235.5 374V369M235.5 32V37M290.5 374V369M290.5 32V37M344.5 374V369M344.5 32V37M398.5 374V369M398.5 32V37M452.5 374V369M452.5 32V37M507.5 374V369M507.5 32V37M73 374.5H78M507 374.5H502M73 331.5H78M507 331.5H502M73 288.5H78M507 288.5H502M73 245.5H78M507 245.5H502M73 203.5H78M507 203.5H502M73 160.5H78M507 160.5H502M73 117.5H78M507 117.5H502M73 74.5H78M507 74.5H502M73 32.5H78M507 32.5H502"/>
</g>
<rect x="400.5" y="39.5" width="101" height="42" fill="#fff" stroke="#000" shape-rendering="crispEdges"/>
<g fill="none" stroke-width="1" shape-rendering="crispEdges">
<path d="M428 45h1v1h-1zM427 46h1v1h-1zM429 46h1v1h-1zM427 47h1v1h-1zM429 47h1v1h-1zM426 48h1v1h-1zM430 48h1v1h-1zM426 49h1v1h-1zM430 49h1v1h-1zM425 50h1v1h-1zM431 50h1v1h-1zM424 51h1v1h-1zM432 51h1v1h-1zM424 52h1v1h-1zM432 52h1v1h-1zM423 53h11v1h-11z" fill="#0000ff"/>
<path d="M427 65h3v1h-3zM427 73h3v1h-3zM424 68h1v3h-1zM432 68h1v3h-1zM426 66h1v1h-1zM430 66h1v1h-1zM425 67h1v1h-1zM431 67h1v1h-1zM425 71h1v1h-1zM431 71h1v1h-1zM426 72h1v1h-1zM430 72h1v1h-1zM425 66h1v1h-1zM431 66h1v1h-1zM425 72h1v1h-1zM431 72h1v1h-1z" fill="#0000ff"/>
</g>
<g filter="url(#al)">
<text transform="translate(73.5 390) scale(1.15 1.1)" text-anchor="middle">0</text><text transform="translate(127.5 390) scale(1.15 1.1)" text-anchor="middle">1</text><text transform="translate(181.5 390) scale(1.15 1.1)" text-anchor="middle">2</text><text transform="translate(235.5 390) scale(1.15 1.1)" text-anchor="middle">3</text><text transform="translate(290.5 390) scale(1.15 1.1)" text-anchor="middle">4</text><text transform="translate(344.5 390) scale(1.15 1.1)" text-anchor="middle">5</text><text transform="translate(398.5 390) scale(1.15 1.1)" text-anchor="middle">6</text><text transform="translate(452.5 390) scale(1.15 1.1)" text-anchor="middle">7</text><text transform="translate(507.5 390) scale(1.15 1.1)" text-anchor="middle">8</text><text transform="translate(67 380) scale(1.1 1.1)" text-anchor="end" style="letter-spacing:-1.5px">5</text><text transform="translate(67 337) scale(1.1 1.1)" text-anchor="end" style="letter-spacing:-1.5px">10</text><text transform="translate(67 294) scale(1.1 1.1)" text-anchor="end" style="letter-spacing:-1.5px">15</text><text transform="translate(67 251) scale(1.1 1.1)" text-anchor="end" style="letter-spacing:-1.5px">20</text><text transform="translate(67 209) scale(1.1 1.1)" text-anchor="end" style="letter-spacing:-1.5px">25</text><text transform="translate(67 166) scale(1.1 1.1)" text-anchor="end" style="letter-spacing:-1.5px">30</text><text transform="translate(67 123) scale(1.1 1.1)" text-anchor="end" style="letter-spacing:-1.5px">35</text><text transform="translate(67 80) scale(1.1 1.1)" text-anchor="end" style="letter-spacing:-1.5px">40</text><text transform="translate(67 38) scale(1.1 1.1)" text-anchor="end" style="letter-spacing:-1.5px">45</text>
<text transform="translate(223 22) scale(1 1.1)">Longitudinal Response</text>
<text transform="translate(275 407) scale(1 1.1)">Time</text>
<text transform="translate(46 253) rotate(-90) scale(1 1.1)">Blood Drug Level</text>
<text transform="translate(453 56) scale(1 1.1)">Female</text>
<text transform="translate(453 75) scale(1 1.1)">Male</text>
</g>
</svg>
</body></html>
